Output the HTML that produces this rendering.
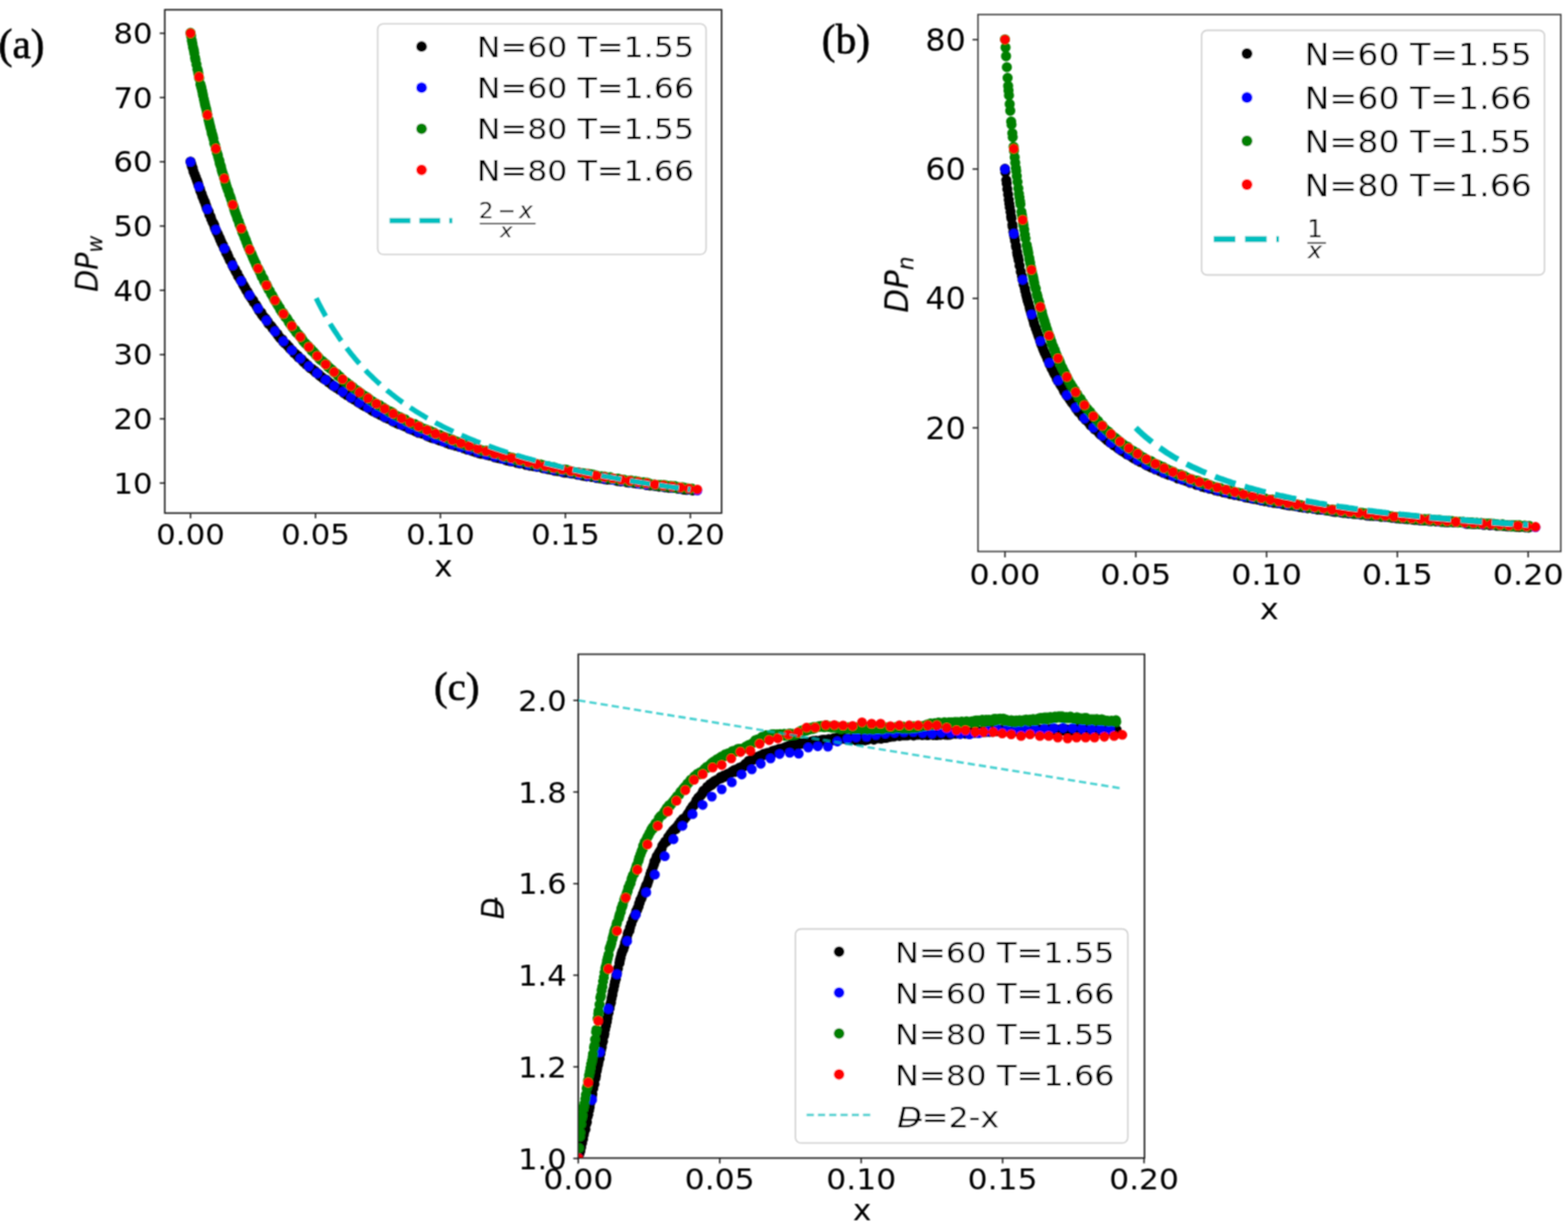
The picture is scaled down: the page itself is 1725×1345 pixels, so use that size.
<!DOCTYPE html><html><head><meta charset="utf-8"><title>Figure</title><style>html,body{margin:0;padding:0;background:#fff;overflow:hidden}svg{display:block}</style></head><body>
<svg width="1725" height="1345" viewBox="0 0 1725 1345">
<defs><filter id="bl" x="0" y="0" width="1725" height="1345" filterUnits="userSpaceOnUse"><feConvolveMatrix order="3" kernelMatrix="1 2 1 2 4 2 1 2 1" divisor="16" edgeMode="duplicate"/></filter></defs>
<rect width="1725" height="1345" fill="#fff"/>
<g filter="url(#bl)">
<defs><clipPath id="ca"><rect x="181.3" y="10.7" width="612.5" height="553.6"/></clipPath></defs>
<g clip-path="url(#ca)">
<path d="M209.6 177.8h0M210.4 180h0M211 182.5h0M212 185h0M212.9 188.7h0M214.2 191.9h0M215.3 194.7h0M216.5 198h0M217.1 199.5h0M217.8 201.6h0M218.5 204.2h0M219.9 207.7h0M220.5 210.2h0M221.8 213.1h0M222.7 216.2h0M223.6 218.2h0M224.6 220.8h0M225.4 222.3h0M226 224.2h0M226.9 226.8h0M227.4 228.6h0M227.9 229.9h0M228.6 231.2h0M229.6 233h0M230.3 236h0M231.6 238.1h0M232.3 240.6h0M233.8 244.3h0M234.8 245.8h0M235.7 247.8h0M236.2 250h0M236.9 252h0M238.2 254.7h0M239.3 256.6h0M240 258.3h0M241.2 260.9h0M241.9 262.2h0M242.3 263.8h0M243.1 265.2h0M243.7 267h0M245.2 269.5h0M246.5 273.2h0M247.6 274.3h0M248.2 275.6h0M248.9 278.3h0M250 279.3h0M250.6 281.1h0M251.3 282.5h0M252.8 286.2h0M253.9 287.3h0M255.3 290.3h0M255.8 292h0M257.2 294.4h0M258.5 296.1h0M259 297.9h0M260.1 299.8h0M261 300.8h0M261.9 303.6h0M262.9 304.7h0M264 306.6h0M264.6 307.9h0M265.8 309.5h0M267.3 312.6h0M268.4 314.5h0M269.8 317h0M270.9 319.2h0M272 320.5h0M273 322.2h0M273.5 323.5h0M274.7 325.4h0M275.9 327.2h0M277.3 329.3h0M278.5 330.4h0M279.3 332.6h0M281.3 335h0M282.4 336.7h0M283.1 338.2h0M284.2 339.9h0M285 341.5h0M286.2 343.1h0M287.4 343.8h0M288.1 346h0M289.1 347.3h0M290.4 348.7h0M292 350.3h0M293 351.8h0M294.5 353.6h0M294.9 355.1h0M295.8 356.4h0M297.7 357.9h0M298.8 359.3h0M300.2 361.4h0M301.5 362.7h0M302.5 364.1h0M304 366.1h0M305.2 367.3h0M305.8 368.6h0M307 370.3h0M308.8 372.4h0M310.7 373.4h0M311.6 375.7h0M313.4 377.6h0M315.3 378.6h0M316.7 380.5h0M317.8 381.5h0M318.9 383.3h0M320.2 384.4h0M321.7 385.8h0M323.6 388.2h0M324.9 389h0M326.1 390.3h0M327.6 391.3h0M328.4 393.1h0M330.4 394.2h0M331.7 395h0M333 397h0M334.1 398.2h0M335.5 398.9h0M336.8 400.7h0M338.6 401.6h0M340 403.6h0M341.3 404.7h0M343 405.5h0M344.4 406.7h0M346.4 408h0M347.3 409.5h0M348.9 410.1h0M350.7 411.6h0M351.3 412.9h0M352.6 413.8h0M354.6 415.2h0M355.8 416.3h0M357.4 417.4h0M358.9 417.6h0M360.1 418.8h0M361.3 420.3h0M363.3 421.5h0M365 423h0M366.6 424.2h0M368.3 425.4h0M370.2 426.5h0M372.2 427.4h0M373.3 428.6h0M374.8 428.7h0M375.8 429.9h0M377 431h0M378.3 432.2h0M379.9 432.5h0M381.6 434.5h0M383.6 435.2h0M384.9 436.2h0M386.2 437.6h0M387.7 438.1h0M389.3 439.2h0M391.1 440.1h0M392.5 440.7h0M393.5 442h0M395 443h0M396.4 443.4h0M397.6 444.5h0M399.4 445.7h0M401.3 446.9h0M403.1 447.3h0M405.2 448.7h0M406.9 449.1h0M408.1 450.2h0M408.9 451.4h0M410.5 452.2h0M412.2 452.2h0M414 454.1h0M415.6 453.7h0M416.6 455.2h0M418.3 456.3h0M420 456h0M421 457h0M422.2 458.2h0M423.8 459.2h0M425.2 459.6h0M426.5 460.4h0M428 460.2h0M429.6 461.3h0M430.8 462.2h0M432 463.3h0M433.3 464h0M434.9 463.9h0M436.7 465.5h0M438.4 466.3h0M439.8 466.6h0M441.8 466.7h0M443.4 468h0M445.1 468.9h0M447 469.2h0M448.6 470.3h0M449.7 471.4h0M451.2 471.3h0M452.3 472.2h0M453.9 472.9h0M455.7 473.6h0M457.6 474.5h0M459.2 474.8h0M460.5 476h0M462 475.7h0M463.4 476.4h0M464.9 477h0M466.4 477.2h0M468.4 478.1h0M469.6 479.3h0M471.4 480.1h0M472.8 480.2h0M474.4 481.3h0M476 481.9h0M477.5 482h0M479 482.1h0M480.4 482.5h0M481.6 483.6h0M483.4 484.4h0M485.3 484.4h0M487 485.4h0M489 485.8h0M490.2 486.6h0M491.8 487.2h0M493.7 487.5h0M494.9 488.5h0M496.1 487.7h0M498 489.2h0M499.8 489.5h0M501.2 490.2h0M503.2 490.4h0M505.1 491.3h0M506.6 491h0M508.2 491.8h0M510.1 493h0M511.8 492.7h0M513.7 494.4h0M515.3 494.1h0M516.9 494.5h0M518.4 495.5h0M520 496.1h0M522.1 496.2h0M523.4 497.2h0M525 496.9h0M526.6 498.3h0M528.4 498.8h0M530.2 498.2h0M531.4 499.1h0M532.9 499.1h0M534.8 500.1h0M536.6 500h0M537.9 500.9h0M539.6 501h0M541.7 501.1h0M543.1 501.7h0M544 502.8h0M546 503h0M547.4 503.6h0M549.1 503.9h0M551.3 504.4h0M553.1 504.4h0M554.8 504.8h0M556.1 505.8h0M558.1 506.5h0M559.8 505.7h0M561.4 507.2h0M563 507.5h0M565 507.4h0M567 507.5h0M568.8 509h0M570.2 508.3h0M572.1 509.7h0M573.9 509.4h0M575.6 509.3h0M577.2 510.1h0M578.7 511.2h0M580.4 510.4h0M582.1 510.7h0M582.8 512.1h0M584.2 511.3h0M585.9 512h0M587.2 512.7h0M589.2 512.8h0M590.7 513.4h0M592.7 512.9h0M594.3 513.5h0M596.1 513.9h0M597.2 514.8h0M598.6 515h0M600.5 515h0M602.2 515.8h0M604.3 515.8h0M605.6 516.3h0M607.2 516h0M608.8 516.4h0M609.8 517.6h0M611.2 516.5h0M612.5 517.9h0M614.2 517.5h0M615.7 518.2h0M617.6 518h0M619.2 519.2h0M620.7 519.7h0M622 519h0M624 518.9h0M625 519.9h0M626.8 519.6h0M628.7 520.7h0M630 520h0M631.6 520.3h0M633.3 521.1h0M635.4 522h0M636.6 521.2h0M637.8 522h0M639.4 522.3h0M640.8 523h0M642.7 522.1h0M643.6 523.5h0M645.5 523.8h0M647.2 523.5h0M649.1 523.5h0M651.1 524.5h0M652.3 523.9h0M654.3 524.6h0M656.1 525.6h0M658 525h0M659.9 526h0M661.1 525.2h0M663 526.4h0M664.7 526.9h0M666.4 526.7h0M667.9 527.3h0M669.5 527.1h0M671.1 527.1h0M672.7 526.9h0M674.4 527.5h0M675.8 527.7h0M677.5 528.2h0M678.9 528.8h0M680.6 529h0M682.8 529.4h0M684.6 528.8h0M686.3 529.1h0M688.2 529.1h0M689.6 530.3h0M690.9 529.6h0M691.9 530.7h0M693.5 530.1h0M695.4 530.3h0M697.4 531.2h0M699 530.9h0M700.3 531.7h0M701.8 531h0M703 531.9h0M705 532.1h0M706.8 531.9h0M708.5 532.4h0M710.6 532.3h0M711.5 533.5h0M713 533.1h0M714.3 532.6h0M715 533.9h0M716.9 533.5h0M718.8 534h0M720.5 534.3h0M722 533.8h0M723.3 534.6h0M725.1 535.1h0M726.8 534.5h0M728.6 534.4h0M730.1 535.4h0M731.5 535.8h0M733.1 535.1h0M734.6 535.3h0M735.7 536.3h0M736.9 535.4h0M738.4 536.2h0M740.2 536.3h0M742.1 536.5h0M744 536.5h0M746 537.5h0M747.3 536.8h0M748.9 537h0M750.2 537.5h0M751.8 538.4h0M753.5 537.8h0M755.3 538.7h0M756.4 537.8h0M757.9 538.5h0M759.7 538.5h0M761.9 539.4h0" fill="none" stroke="#000000" stroke-width="11.2" stroke-linecap="round"/>
<path d="M209.6 177.9h0M218.9 205.2h0M228.2 230h0M237.5 252.6h0M246.8 273.2h0M256.1 291.9h0M265.4 309.1h0M274.7 324.8h0M283.9 339.3h0M293.2 352.4h0M302.5 364.4h0M311.8 375.2h0M321.1 385.2h0M330.4 394.3h0M339.7 402.7h0M349 410.4h0M358.3 417.7h0M367.6 424.4h0M376.9 430.8h0M386.2 436.9h0M395.5 442.8h0M404.8 448.3h0M414.1 453.5h0M423.3 458.4h0M432.6 463h0M441.9 467.3h0M451.2 471.4h0M460.5 475.3h0M469.8 478.9h0M479.1 482.4h0M488.4 485.7h0M497.7 488.8h0M507 491.8h0M516.3 494.6h0M525.6 497.3h0M534.9 499.9h0M544.2 502.3h0M553.5 504.7h0M562.7 506.9h0M572 509.1h0M581.3 511.1h0M590.6 513.1h0M599.9 515h0M609.2 516.8h0M618.5 518.6h0M627.8 520.2h0M637.1 521.9h0M646.4 523.4h0M655.7 524.9h0M665 526.4h0M674.3 527.7h0M683.6 529.1h0M692.9 530.4h0M702.1 531.7h0M711.4 532.9h0M720.7 534h0M730 535.2h0M739.3 536.3h0M748.6 537.4h0M757.9 538.4h0M767.2 539.4h0" fill="none" stroke="#0000ff" stroke-width="10.6" stroke-linecap="round"/>
<path d="M209.6 36.2h0M210.2 39.4h0M211 44.4h0M211.7 47.9h0M212.3 51.7h0M212.9 53.7h0M213.3 55.6h0M213.8 58.6h0M214.6 63.4h0M215.1 66h0M216.1 70.8h0M217.1 75.9h0M217.7 77.8h0M218.2 80.8h0M219.1 86h0M220.5 92.8h0M221.1 94.7h0M221.6 96.6h0M222.4 100.1h0M223 103.2h0M223.4 105.3h0M224.3 109.3h0M225 112.3h0M225.5 114.7h0M226 116.8h0M226.9 120h0M227.5 123.1h0M227.9 125.7h0M229.4 131.6h0M229.9 133.5h0M230.4 135.7h0M231.1 138.4h0M231.6 140.5h0M232.6 144.3h0M232.9 146.4h0M233.5 147.8h0M234.1 149.7h0M234.8 152.6h0M235.7 157.4h0M236.8 160.2h0M237.6 164.1h0M238.6 167.7h0M239.5 170.2h0M239.8 171.7h0M240.8 175.2h0M241.4 176.9h0M241.7 179.4h0M242.5 181.6h0M243.1 183.3h0M243.8 186.8h0M244.3 188.5h0M245 190.5h0M246.2 193.8h0M246.8 196.2h0M247.7 199.4h0M248.3 201.9h0M248.7 203.3h0M249.5 205.7h0M250.6 208.7h0M251.3 210.2h0M252.2 213.6h0M253.3 216.3h0M254.1 218.8h0M255.3 222.7h0M255.6 224.2h0M256.5 226h0M257.2 228h0M257.8 230.6h0M258.5 232.6h0M259 234.2h0M259.8 236.3h0M260.8 239h0M261.3 240.7h0M262.7 243.7h0M263.4 246.5h0M264.4 248.7h0M265.4 251.1h0M266.4 254.5h0M267.3 256.5h0M268 257.9h0M269 261h0M269.7 262.5h0M270.5 264.2h0M270.9 265.8h0M271.7 267.6h0M272.3 269.5h0M273.6 272.6h0M274.8 275.2h0M275.4 276.7h0M276.6 279h0M277.3 280.7h0M278.4 283.4h0M279.4 285.6h0M280 287.3h0M281.3 289.4h0M281.7 291h0M283.1 293.9h0M284.3 295.7h0M285 297.1h0M285.9 299.2h0M286.9 300.8h0M287.5 302.9h0M288.2 304.6h0M289.4 305.7h0M290.1 307h0M290.5 309.1h0M291.7 311.1h0M293 312.8h0M293.6 314.1h0M294.2 315.7h0M295.6 318.6h0M296.8 319.9h0M298.2 323.1h0M299.4 324.8h0M300.7 327.1h0M301.5 329.1h0M302.6 330.9h0M303.6 332.3h0M304.7 333.9h0M305.6 335.4h0M306.5 337.1h0M307.7 338.5h0M308.4 340.5h0M309.5 342.1h0M310.3 343.4h0M311.5 344.1h0M312.1 345.9h0M313.3 347.2h0M314 348.9h0M315.4 349.8h0M316.7 351.9h0M317.9 354.4h0M319.1 355.1h0M319.5 356.5h0M321 358.4h0M322.1 360.4h0M323.6 362.2h0M324.8 363h0M325.9 365.5h0M327.3 366.7h0M328.7 368.3h0M329.9 369.6h0M331 370.7h0M331.8 372.3h0M332.9 373.9h0M334 375.6h0M335.6 377.3h0M336.7 378.4h0M338.7 380.3h0M340.4 382.4h0M342 383.6h0M343 385.9h0M344.8 386.6h0M345.6 387.9h0M346.7 388.9h0M347.4 390.2h0M348.7 391.3h0M350.1 392.7h0M351.4 394.6h0M352.7 395.9h0M354.3 396.8h0M355.9 398.1h0M357.7 399.7h0M359 400.7h0M360 401.9h0M360.6 403.3h0M362.2 404.1h0M363.2 405.3h0M364.6 406.1h0M365.7 407.1h0M367.2 409h0M368.8 410.3h0M370.4 410.9h0M371.5 412.2h0M372.1 413.6h0M373.9 414.1h0M375.2 416h0M376.6 417.3h0M378.6 419h0M379.9 419.8h0M381.7 420.9h0M383 422.3h0M384.7 423.1h0M385.9 424.8h0M388.1 425.6h0M390 427.8h0M391.6 428.8h0M393.8 430h0M395.7 431.5h0M397.3 432.7h0M398.6 434.1h0M400.7 435.2h0M402.3 436.1h0M403.8 436.9h0M405.2 438h0M406.2 439h0M407.6 440.2h0M409.6 441.3h0M411.4 442.8h0M413.3 443.5h0M415.1 444.7h0M416.2 446h0M417.8 445.7h0M418.9 447h0M420.2 448.1h0M421.6 448.1h0M422.9 449.3h0M424.7 450.2h0M425.9 451.2h0M427.2 452.2h0M429 452.3h0M429.5 453.7h0M431.1 453.4h0M432.3 454.2h0M434.1 456.3h0M436 457h0M437.9 458.4h0M439.9 458.6h0M441.2 459.3h0M442.4 460.2h0M443.7 461.1h0M445.5 461h0M446.6 462.5h0M447.8 463.5h0M449.4 464.1h0M450.6 464.8h0M452.4 465.7h0M454.4 466.7h0M456.3 466.4h0M458 467.6h0M459.3 469h0M461.4 468.9h0M462.5 470.4h0M463.9 471.1h0M465.9 471.3h0M467.2 471.9h0M469 472.4h0M470.2 473.1h0M471.6 473.7h0M473.2 473.9h0M474.7 475.5h0M476 476.1h0M477.3 475.5h0M478.4 477h0M480.1 478h0M481.6 478h0M483.6 478h0M484.9 479.3h0M486.7 479.6h0M488.6 480.3h0M490.3 480.8h0M491.2 481.9h0M493 481.8h0M494 483.1h0M495.5 483.2h0M497.2 483.3h0M497.9 484.6h0M499.9 484.7h0M501.7 485.4h0M502.6 486.5h0M504.1 486h0M505.5 487.2h0M507.6 487.2h0M508.7 488.5h0M510.2 487.7h0M511.3 489.4h0M512.5 488.6h0M513.8 490.2h0M515.6 490.5h0M517.8 490.9h0M519.6 490.8h0M521.2 491.7h0M522.7 492.3h0M524.7 493.2h0M526.5 493.8h0M527.9 494.8h0M529.5 495.2h0M531.5 495.8h0M533.5 495.9h0M535.1 495.6h0M536.4 496.5h0M538 496.5h0M539.2 497.3h0M541 497.8h0M542.3 498.5h0M543.9 499h0M545.4 498.9h0M547.3 499.6h0M549.1 500h0M551.1 500.4h0M552.5 500.8h0M553.5 501.9h0M555 502.5h0M556.7 501.9h0M558 502.9h0M560 502.7h0M561.9 503.5h0M563.6 503.4h0M565.6 504.2h0M566.8 505.4h0M568.2 504.7h0M569.5 506.2h0M571.1 505.7h0M573 506.8h0M574.5 506.7h0M576.5 507.5h0M578.5 507.3h0M579.7 508.4h0M581.4 508.8h0M583.4 508.4h0M585.3 509.9h0M586.6 509.1h0M587.9 510.3h0M589.7 510.1h0M591.1 511.1h0M592.8 511h0M594.9 510.9h0M596.7 511.4h0M597.8 512.7h0M599.3 512.6h0M600.9 512.9h0M602.4 513.5h0M603.7 512.8h0M604.9 513.7h0M606.5 514.5h0M608.2 514.7h0M609.3 513.9h0M610.4 514.9h0M612 514.9h0M613.8 515.3h0M615.2 516.2h0M616.8 516.5h0M618.7 516.4h0M620.1 517h0M621.4 516.4h0M623.2 516.5h0M624.9 517.4h0M626.5 517.8h0M627.8 518.7h0M629.7 518.6h0M631.4 519h0M633.5 519.5h0M635.4 519.5h0M637.1 519.9h0M638.9 520.3h0M640.7 520.4h0M642.8 520.7h0M644.6 521.6h0M646.8 521.1h0M648.6 521.4h0M650.2 521.5h0M651.7 522.7h0M653 522.1h0M654.8 523.4h0M656.7 523h0M658.1 523.8h0M659.9 524.4h0M661.9 523.8h0M663.1 524.6h0M665.1 524h0M666.6 524.6h0M668 525.5h0M670 525.7h0M671.4 524.9h0M673 526.3h0M674.6 526.4h0M676.5 526.6h0M678.2 526.5h0M680 526.3h0M681.4 527.7h0M683.2 527.6h0M684.7 527.7h0M686.5 527.7h0M688.5 528.6h0M690 529.1h0M691.6 528.5h0M692.9 529.5h0M694.2 528.4h0M696 529.7h0M697.7 529.5h0M699.2 529.2h0M700.5 530h0M702 529.7h0M703.6 530h0M704.8 530.8h0M706.8 531.4h0M708 530.3h0M709.3 531.4h0M711.2 530.9h0M712.8 531h0M714.4 532h0M716 532.5h0M717.4 532.8h0M719.5 532.9h0M721 533.3h0M723.2 533.3h0M724.9 533.4h0M727.1 533.3h0M728.2 534.2h0M730.2 533.4h0M731.4 534.6h0M732.6 533.9h0M734.4 534.3h0M736.4 535.1h0M737.8 534.3h0M739.7 534.6h0M741.6 535.8h0M742.5 534.7h0M744 536.3h0M745.8 535.6h0M747.6 536.1h0M748.9 536.6h0M750.5 535.8h0M751.7 537h0M753 536.4h0M754.9 537.2h0M756.5 537.1h0M758.1 537.3h0M760 538.1h0M761.2 537.4h0" fill="none" stroke="#008000" stroke-width="11.2" stroke-linecap="round"/>
<path d="M209.6 36.6h0M218.9 84.4h0M228.2 126.4h0M237.5 163.4h0M246.8 196.2h0M256.1 225.3h0M265.4 251.2h0M274.7 274.4h0M283.9 295.2h0M293.2 313.7h0M302.5 330.3h0M311.8 345.2h0M321.1 358.5h0M330.4 370.6h0M339.7 381.5h0M349 391.5h0M358.3 400.7h0M367.6 409.1h0M376.9 417h0M386.2 424.4h0M395.5 431.4h0M404.8 437.9h0M414.1 444h0M423.3 449.6h0M432.6 454.9h0M441.9 459.9h0M451.2 464.5h0M460.5 468.9h0M469.8 473h0M479.1 476.9h0M488.4 480.6h0M497.7 484h0M507 487.3h0M516.3 490.4h0M525.6 493.4h0M534.9 496.2h0M544.2 498.9h0M553.5 501.4h0M562.7 503.8h0M572 506.1h0M581.3 508.3h0M590.6 510.5h0M599.9 512.5h0M609.2 514.4h0M618.5 516.3h0M627.8 518.1h0M637.1 519.8h0M646.4 521.4h0M655.7 523h0M665 524.6h0M674.3 526h0M683.6 527.5h0M692.9 528.8h0M702.1 530.1h0M711.4 531.4h0M720.7 532.7h0M730 533.9h0M739.3 535h0M748.6 536.1h0M757.9 537.2h0M767.2 538.3h0" fill="none" stroke="#ff0000" stroke-width="10.6" stroke-linecap="round"/>
<path d="M347.9 328 L350 332.2 L352 336.2 L354.1 340.1 L356.2 343.9 L358.2 347.6 L360.3 351.2 L362.4 354.7 L364.4 358.1 L366.5 361.4 L368.6 364.6 L370.7 367.7 L372.7 370.8 L374.8 373.8 L376.9 376.7 L378.9 379.5 L381 382.3 L383.1 385 L385.1 387.6 L387.2 390.2 L389.3 392.7 L391.3 395.2 L393.4 397.6 L395.5 400 L397.5 402.3 L399.6 404.5 L401.7 406.7 L403.7 408.9 L405.8 411 L407.9 413 L410 415.1 L412 417 L414.1 419 L416.2 420.9 L418.2 422.8 L420.3 424.6 L422.4 426.4 L424.4 428.1 L426.5 429.9 L428.6 431.5 L430.6 433.2 L432.7 434.8 L434.8 436.4 L436.8 438 L438.9 439.6 L441 441.1 L443 442.6 L445.1 444 L447.2 445.5 L449.2 446.9 L451.3 448.3 L453.4 449.6 L455.5 451 L457.5 452.3 L459.6 453.6 L461.7 454.9 L463.7 456.1 L465.8 457.3 L467.9 458.6 L469.9 459.8 L472 460.9 L474.1 462.1 L476.1 463.2 L478.2 464.3 L480.3 465.5 L482.3 466.5 L484.4 467.6 L486.5 468.7 L488.5 469.7 L490.6 470.7 L492.7 471.7 L494.8 472.7 L496.8 473.7 L498.9 474.7 L501 475.6 L503 476.6 L505.1 477.5 L507.2 478.4 L509.2 479.3 L511.3 480.2 L513.4 481.1 L515.4 482 L517.5 482.8 L519.6 483.7 L521.6 484.5 L523.7 485.3 L525.8 486.1 L527.8 486.9 L529.9 487.7 L532 488.5 L534.1 489.3 L536.1 490 L538.2 490.8 L540.3 491.5 L542.3 492.2 L544.4 493 L546.5 493.7 L548.5 494.4 L550.6 495.1 L552.7 495.8 L554.7 496.4 L556.8 497.1 L558.9 497.8 L560.9 498.4 L563 499.1 L565.1 499.7 L567.1 500.3 L569.2 501 L571.3 501.6 L573.3 502.2 L575.4 502.8 L577.5 503.4 L579.6 504 L581.6 504.6 L583.7 505.1 L585.8 505.7 L587.8 506.3 L589.9 506.8 L592 507.4 L594 507.9 L596.1 508.5 L598.2 509 L600.2 509.5 L602.3 510.1 L604.4 510.6 L606.4 511.1 L608.5 511.6 L610.6 512.1 L612.6 512.6 L614.7 513.1 L616.8 513.6 L618.9 514.1 L620.9 514.5 L623 515 L625.1 515.5 L627.1 516 L629.2 516.4 L631.3 516.9 L633.3 517.3 L635.4 517.8 L637.5 518.2 L639.5 518.6 L641.6 519.1 L643.7 519.5 L645.7 519.9 L647.8 520.3 L649.9 520.8 L651.9 521.2 L654 521.6 L656.1 522 L658.2 522.4 L660.2 522.8 L662.3 523.2 L664.4 523.6 L666.4 524 L668.5 524.3 L670.6 524.7 L672.6 525.1 L674.7 525.5 L676.8 525.8 L678.8 526.2 L680.9 526.6 L683 526.9 L685 527.3 L687.1 527.6 L689.2 528 L691.2 528.3 L693.3 528.7 L695.4 529 L697.4 529.4 L699.5 529.7 L701.6 530 L703.7 530.4 L705.7 530.7 L707.8 531 L709.9 531.3 L711.9 531.7 L714 532 L716.1 532.3 L718.1 532.6 L720.2 532.9 L722.3 533.2 L724.3 533.5 L726.4 533.8 L728.5 534.1 L730.5 534.4 L732.6 534.7 L734.7 535 L736.7 535.3 L738.8 535.6 L740.9 535.9 L743 536.2 L745 536.4 L747.1 536.7 L749.2 537 L751.2 537.3 L753.3 537.6 L755.4 537.8 L757.4 538.1 L759.5 538.4" fill="none" stroke="#00bfbf" stroke-width="5.7" stroke-linecap="butt" stroke-linejoin="round" stroke-dasharray="22.3 9.8"/>
</g>
<rect x="181.3" y="10.7" width="612.5" height="553.6" fill="none" stroke="#151515" stroke-width="1.6"/>
<path d="M175.7 531.3H181.3" stroke="#151515" stroke-width="1.5"/>
<text transform="translate(168,542.6) scale(1.070,1)" font-family="'DejaVu Sans', 'Liberation Sans', sans-serif" font-size="31.8" text-anchor="end" fill="#000">10</text>
<path d="M175.7 460.6H181.3" stroke="#151515" stroke-width="1.5"/>
<text transform="translate(168,471.9) scale(1.070,1)" font-family="'DejaVu Sans', 'Liberation Sans', sans-serif" font-size="31.8" text-anchor="end" fill="#000">20</text>
<path d="M175.7 390H181.3" stroke="#151515" stroke-width="1.5"/>
<text transform="translate(168,401.3) scale(1.070,1)" font-family="'DejaVu Sans', 'Liberation Sans', sans-serif" font-size="31.8" text-anchor="end" fill="#000">30</text>
<path d="M175.7 319.3H181.3" stroke="#151515" stroke-width="1.5"/>
<text transform="translate(168,330.6) scale(1.070,1)" font-family="'DejaVu Sans', 'Liberation Sans', sans-serif" font-size="31.8" text-anchor="end" fill="#000">40</text>
<path d="M175.7 248.6H181.3" stroke="#151515" stroke-width="1.5"/>
<text transform="translate(168,259.9) scale(1.070,1)" font-family="'DejaVu Sans', 'Liberation Sans', sans-serif" font-size="31.8" text-anchor="end" fill="#000">50</text>
<path d="M175.7 177.9H181.3" stroke="#151515" stroke-width="1.5"/>
<text transform="translate(168,189.2) scale(1.070,1)" font-family="'DejaVu Sans', 'Liberation Sans', sans-serif" font-size="31.8" text-anchor="end" fill="#000">60</text>
<path d="M175.7 107.3H181.3" stroke="#151515" stroke-width="1.5"/>
<text transform="translate(168,118.6) scale(1.070,1)" font-family="'DejaVu Sans', 'Liberation Sans', sans-serif" font-size="31.8" text-anchor="end" fill="#000">70</text>
<path d="M175.7 36.6H181.3" stroke="#151515" stroke-width="1.5"/>
<text transform="translate(168,47.9) scale(1.070,1)" font-family="'DejaVu Sans', 'Liberation Sans', sans-serif" font-size="31.8" text-anchor="end" fill="#000">80</text>
<path d="M209.6 564.3V570.1" stroke="#151515" stroke-width="1.5"/>
<text transform="translate(209.6,598.8) scale(1.070,1)" font-family="'DejaVu Sans', 'Liberation Sans', sans-serif" font-size="31.8" text-anchor="middle" fill="#000">0.00</text>
<path d="M347.1 564.3V570.1" stroke="#151515" stroke-width="1.5"/>
<text transform="translate(347.1,598.8) scale(1.070,1)" font-family="'DejaVu Sans', 'Liberation Sans', sans-serif" font-size="31.8" text-anchor="middle" fill="#000">0.05</text>
<path d="M484.5 564.3V570.1" stroke="#151515" stroke-width="1.5"/>
<text transform="translate(484.5,598.8) scale(1.070,1)" font-family="'DejaVu Sans', 'Liberation Sans', sans-serif" font-size="31.8" text-anchor="middle" fill="#000">0.10</text>
<path d="M622 564.3V570.1" stroke="#151515" stroke-width="1.5"/>
<text transform="translate(622,598.8) scale(1.070,1)" font-family="'DejaVu Sans', 'Liberation Sans', sans-serif" font-size="31.8" text-anchor="middle" fill="#000">0.15</text>
<path d="M759.5 564.3V570.1" stroke="#151515" stroke-width="1.5"/>
<text transform="translate(759.5,598.8) scale(1.070,1)" font-family="'DejaVu Sans', 'Liberation Sans', sans-serif" font-size="31.8" text-anchor="middle" fill="#000">0.20</text>
<text transform="translate(487.8,633.6) scale(1.070,1)" font-family="'DejaVu Sans', 'Liberation Sans', sans-serif" font-size="31.8" text-anchor="middle" fill="#000">x</text>
<text transform="translate(107.8,321.0) rotate(-90) scale(1,1.045)" font-family="'DejaVu Sans', 'Liberation Sans', sans-serif" font-size="31.6" font-style="italic">DP<tspan font-size="22.8" dy="4.3">w</tspan></text>
<rect x="415.5" y="26.2" width="361.2" height="253.6" rx="6" ry="6" fill="#ffffff" fill-opacity="0.8" stroke="#d0d0d0" stroke-width="1.6"/>
<path d="M463.8 51.2h0" fill="none" stroke="#000000" stroke-width="11.8" stroke-linecap="round"/>
<text transform="translate(524.6,62.9) scale(1.090,1)" font-family="'DejaVu Sans', 'Liberation Sans', sans-serif" font-size="32" text-anchor="start" fill="#000">N=60 T=1.55</text>
<path d="M463.8 96.4h0" fill="none" stroke="#0000ff" stroke-width="11.8" stroke-linecap="round"/>
<text transform="translate(524.6,108.1) scale(1.090,1)" font-family="'DejaVu Sans', 'Liberation Sans', sans-serif" font-size="32" text-anchor="start" fill="#000">N=60 T=1.66</text>
<path d="M463.8 141.6h0" fill="none" stroke="#008000" stroke-width="11.8" stroke-linecap="round"/>
<text transform="translate(524.6,153.3) scale(1.090,1)" font-family="'DejaVu Sans', 'Liberation Sans', sans-serif" font-size="32" text-anchor="start" fill="#000">N=80 T=1.55</text>
<path d="M463.8 186.8h0" fill="none" stroke="#ff0000" stroke-width="11.8" stroke-linecap="round"/>
<text transform="translate(524.6,198.5) scale(1.090,1)" font-family="'DejaVu Sans', 'Liberation Sans', sans-serif" font-size="32" text-anchor="start" fill="#000">N=80 T=1.66</text>
<path d="M428.6 242.7 L497.6 242.7" fill="none" stroke="#00bfbf" stroke-width="5.7" stroke-linecap="butt" stroke-linejoin="round" stroke-dasharray="22.9 9.9"/>
<text transform="translate(526.8,239.7) scale(1.060,1)" font-family="'DejaVu Sans', 'Liberation Sans', sans-serif" font-size="24" text-anchor="start" fill="#000">2</text>
<text transform="translate(547.2,239.7)" font-family="'DejaVu Sans', 'Liberation Sans', sans-serif" font-size="24" text-anchor="start" fill="#000">−</text>
<text transform="translate(571,239.7) scale(1.060,1)" font-family="'DejaVu Sans', 'Liberation Sans', sans-serif" font-size="24" text-anchor="start" font-style="italic" fill="#000">x</text>
<path d="M527.8 245.8H589.2" stroke="#000" stroke-width="1.6"/>
<text transform="translate(557,261.2) scale(1.060,1)" font-family="'DejaVu Sans', 'Liberation Sans', sans-serif" font-size="22" text-anchor="middle" font-style="italic" fill="#000">x</text>
<text transform="translate(-1.5,64.3)" font-family="'Liberation Serif', 'DejaVu Serif', serif" font-size="45.5" text-anchor="start" stroke="#000" stroke-width="0.7" fill="#000">(a)</text>
<defs><clipPath id="cb"><rect x="1075.9" y="16" width="641.2" height="590.5"/></clipPath></defs>
<g clip-path="url(#cb)">
<path d="M1105.6 185.7h0M1106 189.2h0M1107.1 198.1h0M1107.5 201.5h0M1108.2 208h0M1109.1 213.9h0M1109.8 219.6h0M1110.4 224.1h0M1110.9 228h0M1111.7 232.7h0M1112.4 238.2h0M1112.7 240.2h0M1113.8 247.3h0M1114 249.2h0M1114.9 255h0M1115.4 257.9h0M1116.1 261h0M1116.7 264.6h0M1117.7 270.3h0M1118 272.1h0M1119 277.5h0M1119.3 280.1h0M1120.1 283h0M1120.7 286.3h0M1121.7 292.3h0M1123 298.7h0M1124.3 303.8h0M1124.9 307.4h0M1126.1 312.7h0M1127.4 317.1h0M1127.9 319.9h0M1128.9 324h0M1129.5 326.3h0M1130 328.2h0M1130.5 330.4h0M1131.6 333.9h0M1132.7 338h0M1133.2 340.2h0M1134 342.7h0M1134.7 344.9h0M1135.4 347.7h0M1136 349.6h0M1136.6 351.4h0M1137.5 355.3h0M1137.9 356.7h0M1139.4 360.5h0M1139.9 361.8h0M1140.8 364.6h0M1141.9 367.5h0M1142.6 369.5h0M1143.2 371.3h0M1144.2 374.6h0M1145.3 377.9h0M1146 379.6h0M1146.8 381h0M1147.2 382.6h0M1148.1 385.3h0M1149.2 387.4h0M1149.8 388.8h0M1150.7 390.8h0M1151.8 393h0M1152.4 395.1h0M1153.3 396.6h0M1154.1 398.7h0M1154.8 400.8h0M1155.9 402.3h0M1156.8 405.1h0M1158.1 407.3h0M1159.3 409.8h0M1160.4 411.8h0M1161.7 413.6h0M1162.7 416.7h0M1163.9 419h0M1165 420h0M1165.8 421.2h0M1166.4 422.6h0M1167.6 424.4h0M1168.6 426.1h0M1169.3 427.3h0M1170.4 429.4h0M1171 430.9h0M1172.5 432.4h0M1173.1 434.3h0M1174.4 435.1h0M1175 436.6h0M1176.6 438.5h0M1177.3 440.1h0M1179.1 442.5h0M1180 443.6h0M1181.1 444.7h0M1182.6 447.3h0M1183.7 449.2h0M1185.2 450.3h0M1185.8 451.8h0M1186.9 453.4h0M1188.4 453.8h0M1189.5 455.8h0M1191.2 458.5h0M1193.1 460.1h0M1194.3 461.9h0M1195.8 462.9h0M1196.9 463.7h0M1198.4 465.5h0M1199.8 467.8h0M1201.6 468.4h0M1202.4 469.8h0M1204.1 472.1h0M1205.5 472.4h0M1207 473.9h0M1208.2 474.8h0M1209.4 476.6h0M1210.7 478h0M1212.1 478.7h0M1213.7 480.3h0M1215.7 482h0M1217.5 483h0M1218.2 484.4h0M1220.2 485.9h0M1221.3 486.8h0M1223.3 487.2h0M1224.1 488.6h0M1225.4 489.7h0M1226.9 490.6h0M1228.9 492.1h0M1230.7 493.5h0M1232.2 493.8h0M1233.6 495.5h0M1235.3 496.5h0M1236.5 497.4h0M1238.2 498.3h0M1239.9 499.7h0M1241.9 500.5h0M1243.3 501.4h0M1245.1 502.6h0M1246.5 503.6h0M1247.8 504.3h0M1249.3 503.9h0M1250.4 505h0M1251.2 506.2h0M1253.1 506.3h0M1254.5 508h0M1256.5 508.5h0M1258.7 509.6h0M1260 510.9h0M1261.6 511.8h0M1263.1 512.3h0M1264.6 513.1h0M1266.4 514.1h0M1267.9 514.3h0M1269.3 514.9h0M1271.2 516.2h0M1272.5 515.7h0M1274.3 516.7h0M1275.9 518.1h0M1277.8 518.8h0M1279.9 520h0M1281.6 520.3h0M1283 521.1h0M1285.1 521h0M1285.9 522.2h0M1287.7 522h0M1289.6 523h0M1291.1 523.3h0M1292.4 524.2h0M1294.4 525h0M1295.8 526.2h0M1297.7 526h0M1299 526.7h0M1300.7 527.6h0M1302.2 527.4h0M1304 528.6h0M1305.5 528.7h0M1306.8 529.5h0M1308.3 529.6h0M1309.4 531h0M1311.4 530.8h0M1313.4 531.2h0M1314.9 532h0M1315.9 533.1h0M1317.3 532.5h0M1318.7 533.4h0M1320.8 533.6h0M1322.7 535.2h0M1324.7 534.5h0M1325.4 535.8h0M1326.8 535.1h0M1328.6 536.3h0M1330.2 537.3h0M1332.1 536.8h0M1334 537.7h0M1335.8 537.5h0M1337.1 539.2h0M1338.6 538.7h0M1340.4 540h0M1342.1 539.6h0M1343.7 539.6h0M1345 540.3h0M1346 541.5h0M1347.8 540.8h0M1349 542h0M1350.4 541.3h0M1351.9 541.9h0M1353.3 543.2h0M1355.2 542.8h0M1356.9 543.2h0M1358.2 544.3h0M1360.5 543.7h0M1361.9 543.9h0M1363.2 545.1h0M1365.1 545.1h0M1367 545.6h0M1368.5 545.9h0M1369.6 546.8h0M1371.2 546.9h0M1373.1 547.3h0M1375 547h0M1377.2 548.2h0M1379.2 548.7h0M1381.1 548.2h0M1382.7 548.8h0M1384.3 549.5h0M1386.3 549.4h0M1387.8 550.5h0M1389.5 549.9h0M1391.3 551.1h0M1392.8 550.6h0M1394.8 551.4h0M1396.4 552.1h0M1398.2 551.9h0M1400.3 551.8h0M1401.3 553h0M1402.9 552.8h0M1404.7 552.8h0M1406 553.5h0M1407.6 553.4h0M1409.4 553.1h0M1410.8 554.3h0M1412.8 553.7h0M1414 555h0M1415.5 554.4h0M1417.3 555.7h0M1418.9 555.8h0M1420.7 555.3h0M1422.1 555.5h0M1423.5 556.2h0M1425.3 556.6h0M1426.8 555.8h0M1428.5 556.9h0M1429.8 557.6h0M1431.9 556.8h0M1433.5 558.1h0M1435.3 557.5h0M1437.1 558.3h0M1438.5 558.9h0M1439.4 557.7h0M1441.2 558.4h0M1442.7 558.2h0M1444.6 559.3h0M1446.3 559.3h0M1447.9 559.1h0M1449.3 560.3h0M1451.3 559.6h0M1453 560.5h0M1454.3 560.1h0M1455.9 560h0M1458 561.1h0M1459.8 561.4h0M1461.6 560.9h0M1463.2 561.8h0M1465.2 561.6h0M1466.3 562.6h0M1467.7 561.5h0M1469 563h0M1470.4 561.9h0M1471.7 562.6h0M1473.4 562.2h0M1474.7 563.4h0M1476.3 563.4h0M1477.8 564h0M1479.4 563.3h0M1481.6 564h0M1483.6 564.6h0M1484.9 563.9h0M1486.4 564.4h0M1487.8 564.8h0M1489.5 565.2h0M1491 565.2h0M1492.9 565.2h0M1494.3 564.8h0M1496 564.7h0M1497.5 566h0M1499.5 565.6h0M1501.4 565.9h0M1503.4 566.9h0M1504.9 567h0M1506.1 566.2h0M1507.4 567.2h0M1509.3 566.9h0M1510.9 567.3h0M1512.8 567.1h0M1514.6 567.4h0M1516.1 567h0M1518.1 567.8h0M1519.5 568.3h0M1520.6 567.4h0M1522 567.9h0M1524 568.4h0M1526 568.2h0M1527.9 568.7h0M1529.3 568.9h0M1531.5 569.3h0M1533 569.2h0M1535 568.7h0M1535.9 569.9h0M1537.8 569.4h0M1539.1 570.1h0M1541.1 570.2h0M1542.3 569.4h0M1543.8 570.1h0M1545.7 570.7h0M1547 569.8h0M1548.5 571h0M1549.9 569.9h0M1551.9 570.7h0M1553.8 571.3h0M1555.6 571.6h0M1557.6 571.7h0M1559.5 571h0M1560.9 571.3h0M1562.2 572.2h0M1563.5 571.6h0M1565.2 572.1h0M1566.9 572.5h0M1569.1 571.7h0M1570.4 572.4h0M1571.8 572.9h0M1573.6 571.9h0M1574.4 573.1h0M1576.2 572.1h0M1578.2 572.9h0M1579.7 573.4h0M1580.8 572.6h0M1582.8 572.5h0M1585.1 573.8h0M1586.7 573.9h0M1588.3 573.8h0M1589.7 574.2h0M1591.5 573.4h0M1592.6 574.4h0M1593.9 573.8h0M1595.4 573.6h0M1596.9 574h0M1598.6 574.3h0M1600.7 574.4h0M1602.7 574.5h0M1604.9 574.5h0M1606.9 574.5h0M1608.6 574.6h0M1610.5 574.9h0M1612.8 575.9h0M1614.8 575.9h0M1616.6 576h0M1618.5 575.8h0M1620 576.2h0M1621.5 576.4h0M1623.1 576.2h0M1624.5 575.5h0M1626.1 576h0M1627.8 576.5h0M1630 575.8h0M1631.6 576h0M1632.6 577.2h0M1634.6 576.3h0M1636.6 576.6h0M1638.3 576.3h0M1639 577.6h0M1640.4 577.5h0M1641.9 576.6h0M1643.8 576.7h0M1645.2 577.3h0M1646.9 578.2h0M1648.3 577.9h0M1649.9 578h0M1651.6 577.4h0M1653 577.8h0M1654.3 578.5h0M1656.5 578.6h0M1657.6 577.7h0M1659.1 578.8h0M1660.4 577.9h0M1661.7 578.9h0M1663.5 578.8h0M1665.1 578h0M1667 579.1h0M1668.2 578.1h0M1668.9 579.5h0M1670.8 578.3h0M1671.4 579.6h0M1672 578.3h0M1673 579.3h0M1674.4 578.8h0M1676.3 578.6h0M1678.1 579.8h0M1680.4 579h0M1681.6 580.1h0M1683 579.5h0" fill="none" stroke="#000000" stroke-width="11.2" stroke-linecap="round"/>
<path d="M1105.6 185.9h0M1115.3 256.9h0M1125.1 307.6h0M1134.8 345.7h0M1144.5 375.3h0M1154.2 399h0M1164 418.4h0M1173.7 434.6h0M1183.4 448.3h0M1193.1 460.1h0M1202.9 470.2h0M1212.6 479.1h0M1222.3 487h0M1232.1 494h0M1241.8 500.2h0M1251.5 505.8h0M1261.2 510.9h0M1271 515.6h0M1280.7 519.8h0M1290.4 523.7h0M1300.2 527.2h0M1309.9 530.5h0M1319.6 533.6h0M1329.3 536.4h0M1339.1 539h0M1348.8 541.5h0M1358.5 543.8h0M1368.2 545.9h0M1378 548h0M1387.7 549.9h0M1397.4 551.7h0M1407.2 553.4h0M1416.9 555h0M1426.6 556.5h0M1436.3 557.9h0M1446.1 559.3h0M1455.8 560.6h0M1465.5 561.8h0M1475.3 563h0M1485 564.2h0M1494.7 565.2h0M1504.4 566.3h0M1514.2 567.3h0M1523.9 568.2h0M1533.6 569.1h0M1543.3 570h0M1553.1 570.8h0M1562.8 571.6h0M1572.5 572.4h0M1582.3 573.2h0M1592 573.9h0M1601.7 574.6h0M1611.4 575.3h0M1621.2 575.9h0M1630.9 576.5h0M1640.6 577.1h0M1650.3 577.7h0M1660.1 578.3h0M1669.8 578.8h0M1679.5 579.4h0M1689.3 579.9h0" fill="none" stroke="#0000ff" stroke-width="10.6" stroke-linecap="round"/>
<path d="M1105.6 43.3h0M1106.2 52.2h0M1106.8 61.8h0M1107.7 73.9h0M1108.5 85.6h0M1109.1 94.4h0M1109.5 99.4h0M1110 104.9h0M1110.8 114.4h0M1111.4 121.8h0M1112.4 133.7h0M1112.8 137.1h0M1113.7 146.5h0M1114.1 150.8h0M1115.1 161.4h0M1115.5 165.8h0M1116.3 173h0M1116.9 178.9h0M1117.6 185h0M1118 188h0M1118.6 193.6h0M1119.4 200.1h0M1120.3 207.3h0M1121 213.3h0M1121.6 217.1h0M1122.2 221.4h0M1122.6 224.6h0M1123.7 232.9h0M1124.2 236.2h0M1124.8 239.8h0M1125.6 245.3h0M1126 247.9h0M1126.8 252.5h0M1127.5 258.1h0M1128.2 262.2h0M1129.5 269.4h0M1130.3 273.2h0M1130.8 276h0M1131.3 278.5h0M1132.3 283.6h0M1132.6 285.9h0M1133.3 289.2h0M1134.2 294.3h0M1134.8 297.1h0M1135.3 299.4h0M1136.2 303.2h0M1136.8 305.6h0M1137.2 308.2h0M1137.9 311.4h0M1138.8 315.6h0M1139.5 317.5h0M1140.7 323.4h0M1141.4 326h0M1142.5 330.2h0M1143.3 332.4h0M1144.2 336.6h0M1144.8 338.6h0M1145.2 340.3h0M1146.1 342.8h0M1146.7 346h0M1147.2 347.7h0M1147.9 350h0M1148.5 351.7h0M1149.2 353.6h0M1149.9 356.6h0M1150.5 358h0M1151.4 361.1h0M1152.1 362.9h0M1153.5 367.3h0M1154.8 370.2h0M1155.4 372.1h0M1156.7 375.7h0M1157.4 378.4h0M1158.7 381.1h0M1159.1 382.8h0M1160.4 385h0M1161.4 388.3h0M1162.5 390.8h0M1163.1 392.6h0M1164.7 395.2h0M1165.3 396.6h0M1166.1 398.8h0M1166.6 400.5h0M1167.9 403.1h0M1168.7 404.5h0M1169.7 406.8h0M1171.3 409.7h0M1171.8 411.2h0M1173.1 413.5h0M1173.9 415.2h0M1174.9 417.1h0M1176.4 420.1h0M1178 422.4h0M1178.6 424h0M1179.9 425.5h0M1181.2 427.9h0M1182.5 429.2h0M1183.7 432.3h0M1184.9 433.2h0M1185.6 434.9h0M1187 437.4h0M1188.5 438.3h0M1189.2 439.5h0M1190.4 442.4h0M1191.7 443.3h0M1192.3 445h0M1193.6 446.3h0M1194.2 447.5h0M1196.3 449.7h0M1197.4 451.3h0M1199.2 452.8h0M1201 455.8h0M1202.1 456.6h0M1203.4 458.2h0M1205 460h0M1206.7 462.3h0M1208 462.9h0M1209.7 465.8h0M1211.3 467.4h0M1212.7 467.9h0M1214 470.1h0M1215.7 471.9h0M1217.6 473.5h0M1219.7 474.9h0M1220.8 476.7h0M1222 477.4h0M1223.3 478.9h0M1225.5 480.7h0M1226.9 481.5h0M1228.2 482.8h0M1229.5 483.7h0M1230.5 484.8h0M1232 485.9h0M1233.2 486.8h0M1235.4 488.4h0M1237.4 490.1h0M1238.7 490.5h0M1240.7 491.4h0M1241.2 492.8h0M1242.8 493.8h0M1244.1 494.7h0M1245.4 495.3h0M1246.8 495.9h0M1248.1 497.1h0M1249.2 498.2h0M1250.8 498.2h0M1252 499.2h0M1253.3 500.2h0M1254.6 501.4h0M1256.7 502.6h0M1258.1 503.1h0M1259 504.2h0M1261.2 505.4h0M1262.7 506.2h0M1264.5 507.3h0M1266.4 507.2h0M1267.6 508.5h0M1268.9 509h0M1270.4 510.2h0M1271.8 510.6h0M1273.2 510.8h0M1273.8 512.1h0M1275.9 512.2h0M1277.1 513.4h0M1278.4 514.2h0M1279.8 513.7h0M1280.4 515.2h0M1282.2 515.6h0M1283.8 515.9h0M1285.6 517.5h0M1287.4 517.6h0M1288.7 518.2h0M1290.9 518.9h0M1292.3 520.1h0M1293.6 520.8h0M1295.4 521.8h0M1297 521.9h0M1299 521.9h0M1301 523.6h0M1302.8 523.4h0M1304.2 524.7h0M1305.6 525h0M1307.4 526.1h0M1309.6 527.2h0M1311.4 527.1h0M1312.8 527.8h0M1314.2 528.8h0M1316 528.7h0M1318 528.8h0M1319.6 530.7h0M1321.4 530.5h0M1322.6 531.7h0M1324.1 532.1h0M1325.3 531.3h0M1326.8 531.6h0M1327.9 532.7h0M1329.3 532.8h0M1331.3 533.7h0M1333.5 534.5h0M1334.8 535.3h0M1336.2 535.6h0M1337.7 535.9h0M1339.5 536.1h0M1341.1 536.5h0M1342.6 536.6h0M1343.9 537.6h0M1345.7 538.4h0M1347.2 538.4h0M1349.1 538.6h0M1350.6 538.8h0M1352.4 539h0M1353.1 540.4h0M1354.6 540.8h0M1356.5 540.2h0M1357.7 540.9h0M1359.2 541.4h0M1361 542h0M1362.4 541.8h0M1363.7 542.7h0M1365 543.3h0M1366.3 542.6h0M1367.3 543.9h0M1369.2 543.4h0M1370.5 544.1h0M1372.3 544.2h0M1373.9 545.1h0M1375.5 545.2h0M1376.8 545.7h0M1379.2 546.2h0M1381 547h0M1383.2 546.6h0M1385.2 546.8h0M1386.2 547.9h0M1387.8 548.2h0M1389.5 548.7h0M1391.7 548.1h0M1393.6 549.1h0M1395 549.8h0M1396.8 549.6h0M1398.3 550.3h0M1399.7 549.4h0M1401 550.6h0M1402.8 550.8h0M1404 551.4h0M1404.9 550.4h0M1405.6 551.8h0M1407.3 551.7h0M1409 551.7h0M1410.9 551.5h0M1412.1 552.5h0M1414.2 552.7h0M1415.5 553.4h0M1417.6 553.9h0M1419.5 553.8h0M1421.2 554.2h0M1422.9 554.8h0M1424.2 554.2h0M1426.2 555.3h0M1427.8 554.8h0M1429.7 555.5h0M1431.3 555.7h0M1433.1 556.4h0M1434.8 556.3h0M1436.6 556.4h0M1438.4 557.3h0M1439.9 556.3h0M1442 557.9h0M1443.7 557h0M1445.1 557.5h0M1446.7 557.6h0M1447.9 558.7h0M1449.6 557.7h0M1450.5 558.8h0M1452 558.1h0M1453.6 558.6h0M1455 558.9h0M1456.5 559h0M1457.6 560.1h0M1459.3 559.6h0M1460.5 560.3h0M1462.6 560.8h0M1464.4 561h0M1465.8 560.3h0M1467.7 561h0M1469.5 560.8h0M1471.5 561.8h0M1473 562h0M1475.1 561.4h0M1476.4 562.1h0M1478.4 562.7h0M1480.3 562.8h0M1481.6 561.9h0M1483 562.6h0M1484.7 563.3h0M1486.4 563.7h0M1487.6 562.7h0M1488.9 564h0M1490.3 564.2h0M1492.1 563.8h0M1493.4 564.3h0M1495 564.3h0M1496.9 563.8h0M1498 564.9h0M1499.2 564.1h0M1500.9 564.8h0M1502.6 564.6h0M1503.6 565.7h0M1505.5 565.5h0M1507 565.1h0M1508.7 565h0M1509.3 566.3h0M1511.2 565.3h0M1512.8 566.4h0M1514.6 566.6h0M1516.6 566.1h0M1518 566.7h0M1519.4 567.3h0M1521.4 567.4h0M1522.8 566.8h0M1524.5 567.4h0M1526.5 567h0M1527.9 568.1h0M1529.4 567.8h0M1531.3 567.9h0M1533.2 568.5h0M1534.7 568.5h0M1536.6 568.9h0M1538.7 569.2h0M1540.5 568.4h0M1541.9 569.4h0M1543.7 569.1h0M1546 568.8h0M1547.8 570.1h0M1549.5 569.6h0M1551.2 570.1h0M1553.2 570.3h0M1555 570h0M1557 569.9h0M1558.4 571h0M1560.4 570.4h0M1561.9 570.8h0M1563.6 571.1h0M1565.5 571.7h0M1567.1 570.8h0M1568.4 571.6h0M1570.2 571.2h0M1572.2 570.9h0M1572.9 572.2h0M1575.1 572.2h0M1576.8 572.2h0M1578.4 571.8h0M1580.3 572.4h0M1582 572.2h0M1583.7 571.8h0M1585.3 573.3h0M1586.7 572.3h0M1588.2 572.6h0M1589.5 573.5h0M1590.9 573h0M1592.7 573.8h0M1594.2 572.8h0M1595.5 573.6h0M1597.6 573.1h0M1599.4 573.5h0M1600.8 574.1h0M1602.6 573.9h0M1604.1 574.6h0M1605.9 573.8h0M1607.4 574.5h0M1609.2 573.8h0M1610.7 574.1h0M1612.5 574.5h0M1614.2 574.3h0M1616 574.6h0M1617.5 574.5h0M1618.8 575.8h0M1619.9 574.5h0M1621.1 575.2h0M1622.7 576h0M1624.6 574.9h0M1626 575.5h0M1627.9 575.8h0M1629.4 575.2h0M1631.1 575.5h0M1632.6 575.8h0M1634.6 576.1h0M1636.5 575.9h0M1638 576.1h0M1640 575.8h0M1641.7 576.5h0M1643.3 576.2h0M1644.6 576.7h0M1646.6 576.5h0M1648.2 576.8h0M1649.8 577.6h0M1651.8 577.4h0M1653 576.7h0M1655 577.7h0M1656.9 577.5h0M1658.4 577.6h0M1659.8 578.1h0M1661.6 578.4h0M1663.5 577.5h0M1664.4 578.6h0M1666.3 577.9h0M1667.5 578.7h0M1668.9 577.9h0M1670.1 578.9h0M1671.4 577.7h0M1673 578.5h0M1674.7 578.8h0M1676.1 578.3h0M1677.7 578.1h0M1679 579.2h0M1680.7 579.4h0M1682.3 578.3h0" fill="none" stroke="#008000" stroke-width="11.2" stroke-linecap="round"/>
<path d="M1105.6 43.6h0M1115.3 163.6h0M1125.1 241.8h0M1134.8 296.8h0M1144.5 337.6h0M1154.2 369h0M1164 394.1h0M1173.7 414.4h0M1183.4 431.3h0M1193.1 445.5h0M1202.9 457.7h0M1212.6 468.2h0M1222.3 477.4h0M1232.1 485.5h0M1241.8 492.7h0M1251.5 499.1h0M1261.2 504.8h0M1271 510h0M1280.7 514.8h0M1290.4 519.1h0M1300.2 523h0M1309.9 526.7h0M1319.6 530h0M1329.3 533.1h0M1339.1 536h0M1348.8 538.6h0M1358.5 541.1h0M1368.2 543.5h0M1378 545.7h0M1387.7 547.7h0M1397.4 549.6h0M1407.2 551.4h0M1416.9 553.2h0M1426.6 554.8h0M1436.3 556.3h0M1446.1 557.8h0M1455.8 559.2h0M1465.5 560.5h0M1475.3 561.7h0M1485 562.9h0M1494.7 564.1h0M1504.4 565.2h0M1514.2 566.2h0M1523.9 567.2h0M1533.6 568.2h0M1543.3 569.1h0M1553.1 569.9h0M1562.8 570.8h0M1572.5 571.6h0M1582.3 572.4h0M1592 573.1h0M1601.7 573.9h0M1611.4 574.6h0M1621.2 575.2h0M1630.9 575.9h0M1640.6 576.5h0M1650.3 577.1h0M1660.1 577.7h0M1669.8 578.3h0M1679.5 578.8h0M1689.3 579.4h0" fill="none" stroke="#ff0000" stroke-width="10.6" stroke-linecap="round"/>
<path d="M1249.5 470.5 L1251.7 472.6 L1253.8 474.7 L1256 476.7 L1258.2 478.6 L1260.3 480.5 L1262.5 482.3 L1264.7 484.1 L1266.9 485.8 L1269 487.5 L1271.2 489.1 L1273.4 490.7 L1275.5 492.3 L1277.7 493.8 L1279.9 495.3 L1282 496.7 L1284.2 498.2 L1286.4 499.5 L1288.5 500.9 L1290.7 502.2 L1292.9 503.5 L1295.1 504.7 L1297.2 505.9 L1299.4 507.1 L1301.6 508.3 L1303.7 509.5 L1305.9 510.6 L1308.1 511.7 L1310.2 512.7 L1312.4 513.8 L1314.6 514.8 L1316.7 515.8 L1318.9 516.8 L1321.1 517.8 L1323.3 518.7 L1325.4 519.6 L1327.6 520.6 L1329.8 521.5 L1331.9 522.3 L1334.1 523.2 L1336.3 524 L1338.4 524.9 L1340.6 525.7 L1342.8 526.5 L1345 527.2 L1347.1 528 L1349.3 528.8 L1351.5 529.5 L1353.6 530.2 L1355.8 531 L1358 531.7 L1360.1 532.4 L1362.3 533 L1364.5 533.7 L1366.6 534.4 L1368.8 535 L1371 535.6 L1373.2 536.3 L1375.3 536.9 L1377.5 537.5 L1379.7 538.1 L1381.8 538.7 L1384 539.2 L1386.2 539.8 L1388.3 540.4 L1390.5 540.9 L1392.7 541.5 L1394.8 542 L1397 542.5 L1399.2 543.1 L1401.4 543.6 L1403.5 544.1 L1405.7 544.6 L1407.9 545.1 L1410 545.5 L1412.2 546 L1414.4 546.5 L1416.5 546.9 L1418.7 547.4 L1420.9 547.9 L1423 548.3 L1425.2 548.7 L1427.4 549.2 L1429.6 549.6 L1431.7 550 L1433.9 550.4 L1436.1 550.8 L1438.2 551.2 L1440.4 551.6 L1442.6 552 L1444.7 552.4 L1446.9 552.8 L1449.1 553.2 L1451.2 553.6 L1453.4 553.9 L1455.6 554.3 L1457.8 554.7 L1459.9 555 L1462.1 555.4 L1464.3 555.7 L1466.4 556.1 L1468.6 556.4 L1470.8 556.7 L1472.9 557.1 L1475.1 557.4 L1477.3 557.7 L1479.5 558 L1481.6 558.3 L1483.8 558.7 L1486 559 L1488.1 559.3 L1490.3 559.6 L1492.5 559.9 L1494.6 560.2 L1496.8 560.5 L1499 560.7 L1501.1 561 L1503.3 561.3 L1505.5 561.6 L1507.7 561.9 L1509.8 562.1 L1512 562.4 L1514.2 562.7 L1516.3 562.9 L1518.5 563.2 L1520.7 563.5 L1522.8 563.7 L1525 564 L1527.2 564.2 L1529.3 564.5 L1531.5 564.7 L1533.7 565 L1535.9 565.2 L1538 565.4 L1540.2 565.7 L1542.4 565.9 L1544.5 566.1 L1546.7 566.4 L1548.9 566.6 L1551 566.8 L1553.2 567.1 L1555.4 567.3 L1557.5 567.5 L1559.7 567.7 L1561.9 567.9 L1564.1 568.1 L1566.2 568.3 L1568.4 568.6 L1570.6 568.8 L1572.7 569 L1574.9 569.2 L1577.1 569.4 L1579.2 569.6 L1581.4 569.8 L1583.6 570 L1585.7 570.2 L1587.9 570.3 L1590.1 570.5 L1592.3 570.7 L1594.4 570.9 L1596.6 571.1 L1598.8 571.3 L1600.9 571.5 L1603.1 571.6 L1605.3 571.8 L1607.4 572 L1609.6 572.2 L1611.8 572.3 L1614 572.5 L1616.1 572.7 L1618.3 572.9 L1620.5 573 L1622.6 573.2 L1624.8 573.4 L1627 573.5 L1629.1 573.7 L1631.3 573.8 L1633.5 574 L1635.6 574.2 L1637.8 574.3 L1640 574.5 L1642.2 574.6 L1644.3 574.8 L1646.5 574.9 L1648.7 575.1 L1650.8 575.2 L1653 575.4 L1655.2 575.5 L1657.3 575.7 L1659.5 575.8 L1661.7 576 L1663.8 576.1 L1666 576.3 L1668.2 576.4 L1670.4 576.5 L1672.5 576.7 L1674.7 576.8 L1676.9 577 L1679 577.1 L1681.2 577.2" fill="none" stroke="#00bfbf" stroke-width="6.5" stroke-linecap="butt" stroke-linejoin="round" stroke-dasharray="23.8 10.6"/>
</g>
<rect x="1075.9" y="16" width="641.2" height="590.5" fill="none" stroke="#3c3c3c" stroke-width="1.6"/>
<path d="M1069.9 470.5H1075.9" stroke="#151515" stroke-width="1.5"/>
<text transform="translate(1062.6,482.5) scale(1.015,1)" font-family="'DejaVu Sans', 'Liberation Sans', sans-serif" font-size="34.5" text-anchor="end" fill="#000">20</text>
<path d="M1069.9 328.2H1075.9" stroke="#151515" stroke-width="1.5"/>
<text transform="translate(1062.6,340.2) scale(1.015,1)" font-family="'DejaVu Sans', 'Liberation Sans', sans-serif" font-size="34.5" text-anchor="end" fill="#000">40</text>
<path d="M1069.9 185.9H1075.9" stroke="#151515" stroke-width="1.5"/>
<text transform="translate(1062.6,197.9) scale(1.015,1)" font-family="'DejaVu Sans', 'Liberation Sans', sans-serif" font-size="34.5" text-anchor="end" fill="#000">60</text>
<path d="M1069.9 43.6H1075.9" stroke="#151515" stroke-width="1.5"/>
<text transform="translate(1062.6,55.6) scale(1.015,1)" font-family="'DejaVu Sans', 'Liberation Sans', sans-serif" font-size="34.5" text-anchor="end" fill="#000">80</text>
<path d="M1105.6 606.5V613" stroke="#151515" stroke-width="1.5"/>
<text transform="translate(1105.6,643.4) scale(1.085,1)" font-family="'DejaVu Sans', 'Liberation Sans', sans-serif" font-size="32.3" text-anchor="middle" fill="#000">0.00</text>
<path d="M1249.5 606.5V613" stroke="#151515" stroke-width="1.5"/>
<text transform="translate(1249.5,643.4) scale(1.085,1)" font-family="'DejaVu Sans', 'Liberation Sans', sans-serif" font-size="32.3" text-anchor="middle" fill="#000">0.05</text>
<path d="M1393.4 606.5V613" stroke="#151515" stroke-width="1.5"/>
<text transform="translate(1393.4,643.4) scale(1.085,1)" font-family="'DejaVu Sans', 'Liberation Sans', sans-serif" font-size="32.3" text-anchor="middle" fill="#000">0.10</text>
<path d="M1537.3 606.5V613" stroke="#151515" stroke-width="1.5"/>
<text transform="translate(1537.3,643.4) scale(1.085,1)" font-family="'DejaVu Sans', 'Liberation Sans', sans-serif" font-size="32.3" text-anchor="middle" fill="#000">0.15</text>
<path d="M1681.2 606.5V613" stroke="#151515" stroke-width="1.5"/>
<text transform="translate(1681.2,643.4) scale(1.085,1)" font-family="'DejaVu Sans', 'Liberation Sans', sans-serif" font-size="32.3" text-anchor="middle" fill="#000">0.20</text>
<text transform="translate(1396.3,680.6) scale(1.080,1)" font-family="'DejaVu Sans', 'Liberation Sans', sans-serif" font-size="32.5" text-anchor="middle" fill="#000">x</text>
<text transform="translate(999.3,343.9) rotate(-90) scale(1,1.045)" font-family="'DejaVu Sans', 'Liberation Sans', sans-serif" font-size="34" font-style="italic">DP<tspan font-size="24" dy="5.0">n</tspan></text>
<rect x="1321.9" y="33.4" width="377.3" height="269" rx="6" ry="6" fill="#ffffff" fill-opacity="0.8" stroke="#d0d0d0" stroke-width="1.6"/>
<path d="M1371.8 59h0" fill="none" stroke="#000000" stroke-width="12" stroke-linecap="round"/>
<text transform="translate(1435.3,72) scale(1.090,1)" font-family="'DejaVu Sans', 'Liberation Sans', sans-serif" font-size="33.5" text-anchor="start" fill="#000">N=60 T=1.55</text>
<path d="M1371.8 107.2h0" fill="none" stroke="#0000ff" stroke-width="12" stroke-linecap="round"/>
<text transform="translate(1435.3,120.2) scale(1.090,1)" font-family="'DejaVu Sans', 'Liberation Sans', sans-serif" font-size="33.5" text-anchor="start" fill="#000">N=60 T=1.66</text>
<path d="M1371.8 155.1h0" fill="none" stroke="#008000" stroke-width="12" stroke-linecap="round"/>
<text transform="translate(1435.3,168.1) scale(1.090,1)" font-family="'DejaVu Sans', 'Liberation Sans', sans-serif" font-size="33.5" text-anchor="start" fill="#000">N=80 T=1.55</text>
<path d="M1371.8 203.1h0" fill="none" stroke="#ff0000" stroke-width="12" stroke-linecap="round"/>
<text transform="translate(1435.3,216.1) scale(1.090,1)" font-family="'DejaVu Sans', 'Liberation Sans', sans-serif" font-size="33.5" text-anchor="start" fill="#000">N=80 T=1.66</text>
<path d="M1335.3 263 L1407.1 263" fill="none" stroke="#00bfbf" stroke-width="6.5" stroke-linecap="butt" stroke-linejoin="round" stroke-dasharray="23.8 10.6"/>
<text transform="translate(1446.5,260.9) scale(1.040,1)" font-family="'DejaVu Sans', 'Liberation Sans', sans-serif" font-size="26" text-anchor="middle" fill="#000">1</text>
<path d="M1438.3 267.3H1458.7" stroke="#000" stroke-width="1.6"/>
<text transform="translate(1446.6,283.6) scale(1.060,1)" font-family="'DejaVu Sans', 'Liberation Sans', sans-serif" font-size="25" text-anchor="middle" font-style="italic" fill="#000">x</text>
<text transform="translate(904,59.3)" font-family="'Liberation Serif', 'DejaVu Serif', serif" font-size="45.5" text-anchor="start" stroke="#000" stroke-width="0.7" fill="#000">(b)</text>
<defs><clipPath id="cc"><rect x="636.2" y="719.5" width="622.9" height="554.1"/></clipPath></defs>
<g clip-path="url(#cc)">
<path d="M636.2 1273.7h0M637 1269.7h0M637.5 1268.6h0M638.4 1266h0M639.3 1261.5h0M640.3 1257h0M641.4 1252.4h0M642.2 1248.1h0M643.1 1244.3h0M644 1242h0M644.9 1236.1h0M645.6 1234h0M646.5 1227.8h0M647.2 1225.4h0M648 1221.2h0M648.7 1217.6h0M649.5 1212.8h0M650.3 1209.4h0M651.2 1205.6h0M651.6 1203.3h0M652.6 1197.1h0M653.9 1192.3h0M655.1 1185.5h0M655.6 1182.8h0M656.5 1177.6h0M657 1174.8h0M658 1170.8h0M658.5 1167.6h0M659.6 1164.2h0M660.6 1158.5h0M661.2 1154.6h0M662 1151.4h0M662.7 1146.8h0M663.3 1145.3h0M664.4 1139.2h0M664.9 1136.8h0M665.7 1131.8h0M666.6 1128h0M667.6 1123.5h0M668.2 1119.5h0M669 1115h0M669.5 1113.6h0M670.6 1108.9h0M671.2 1105.3h0M672.1 1102.4h0M672.8 1097.9h0M673.7 1094.3h0M674.1 1090.6h0M674.9 1088.1h0M675.8 1083.7h0M676.5 1079.9h0M677.5 1076.4h0M678 1072.4h0M678.8 1069.9h0M679.8 1065.1h0M681.5 1059.3h0M682 1055.9h0M682.8 1052.9h0M683.7 1049.3h0M684.7 1046.3h0M685.8 1044.1h0M686.7 1041.1h0M687.7 1036.9h0M688.6 1034.4h0M689.6 1031.9h0M690.6 1027.2h0M691.3 1025.3h0M692.4 1023.4h0M693.1 1020.2h0M694.5 1016h0M696.3 1011.2h0M697.4 1008.8h0M698.2 1007.2h0M699.4 1004.7h0M700 1001.9h0M700.9 1000.7h0M701.6 998.8h0M702.5 996.9h0M703.1 993.9h0M703.8 992.5h0M704.5 989.8h0M705.4 988.4h0M706.1 986.8h0M707.2 983.4h0M708.4 980.8h0M709.3 978.2h0M710.1 976.2h0M710.9 973.8h0M711.9 973h0M712.3 971.4h0M713.3 968.6h0M714 966.2h0M715 964.3h0M715.4 961.7h0M716.4 958.7h0M717.9 955.1h0M718.9 952h0M719.6 950.2h0M720 947.4h0M721.3 946h0M721.8 944.5h0M722.6 941.6h0M723.6 940.8h0M724.7 938.5h0M725.6 936.9h0M726.6 935.5h0M727.8 933.4h0M728.7 930.3h0M730.1 928.3h0M731.9 925.5h0M733.3 925.6h0M734.4 924.1h0M735.1 920.8h0M736.4 919.2h0M738 916.8h0M738.9 915.8h0M740.5 913.4h0M742.2 911.7h0M743.5 911.9h0M744.5 909.5h0M746 908.9h0M746.7 906.5h0M748.4 905.5h0M748.8 903.4h0M750.4 903.3h0M751.3 900.6h0M752.2 901.6h0M753.7 899.6h0M754.7 898.6h0M755.5 897.1h0M756.7 895.2h0M757.6 893.9h0M759.3 891.3h0M760.1 889.7h0M761.4 888.1h0M762.1 886.7h0M763.2 885.9h0M764 884.6h0M765.3 882.8h0M766.2 880.3h0M767.7 879.4h0M768.3 877.1h0M770 875.7h0M771.4 874.3h0M772.6 872.7h0M773.2 870.9h0M773.8 869.7h0M775 870.6h0M776.2 868.2h0M777.2 867.5h0M778.1 865.3h0M780.2 864.8h0M780.7 863.3h0M781.4 862.3h0M782.7 863.4h0M783.8 860.7h0M784.6 861.7h0M785.7 860.9h0M786.4 858.8h0M787 860h0M787.9 858.4h0M788.9 857.5h0M791.1 856.9h0M792.6 854.7h0M793.2 856h0M793.9 854.5h0M795 853.8h0M796.4 852.9h0M797.1 854.3h0M798.3 853h0M799.4 851.7h0M801 850.8h0M802.9 850.3h0M804.4 849.8h0M805.6 848.3h0M807.4 847.2h0M808.2 849h0M808.8 846.6h0M810.7 847.1h0M811.4 845.6h0M812.1 847h0M813.4 844.4h0M815.3 844.2h0M816.7 843.2h0M818.5 842.7h0M819.2 841.8h0M820 840.1h0M821.5 839.4h0M822.8 838.5h0M823.5 836.9h0M824.6 838.4h0M825.5 836.2h0M827.7 836h0M829.3 835.4h0M830.6 834.2h0M831.4 833.1h0M833 832.3h0M834.6 832.1h0M836.4 831h0M837.7 830.5h0M839.1 830.7h0M840.1 829.2h0M841.3 829h0M842.4 829.9h0M843 828.8h0M844.1 828h0M844.8 829.5h0M845.5 828.3h0M846.8 827.6h0M848.6 827.6h0M849.6 826.1h0M849.9 828.2h0M851 825.8h0M851.9 827.3h0M853.4 826.4h0M854.1 824.8h0M854.7 826.2h0M855.6 825.1h0M857.1 823.7h0M858.7 824.7h0M860.4 823h0M862.1 823.1h0M863.5 822.1h0M865 821.3h0M866.5 821h0M867.8 820.1h0M869 821.7h0M869.5 819.4h0M870.4 820.7h0M871.8 819.5h0M872.9 820.8h0M873.6 818.3h0M875.2 818.7h0M876.7 819h0M878 819.4h0M879 817.2h0M879.6 818.4h0M880.7 817.8h0M882 817.9h0M883 817.3h0M884.2 817h0M885.7 816.8h0M887.3 817.3h0M888.1 816.4h0M889.2 817.5h0M889.7 816.3h0M891.1 816.2h0M891.9 817.3h0M893 816.4h0M894.7 814.8h0M895 817h0M896 815.1h0M896.7 816.7h0M897.8 814.5h0M898.5 816.4h0M899.7 815.8h0M901.6 814.9h0M903.1 814.2h0M903.8 815.2h0M905.4 813.6h0M907.1 813.7h0M908.6 814.2h0M909.9 814.3h0M911.1 814.5h0M911.9 812.8h0M912.5 814.1h0M913.9 814.6h0M914.9 813.7h0M916.2 814.1h0M917.2 811.9h0M917.6 813.4h0M919.6 812.9h0M921 811.2h0M922.7 812.4h0M924.2 813h0M924.8 810.9h0M925.5 812.6h0M927.2 811.3h0M928.8 811.5h0M930.2 811.3h0M931.6 813.2h0M932.7 812h0M934 812.9h0M935.9 813.7h0M936.3 812.2h0M937.9 811.8h0M939.6 812h0M940.2 813.5h0M941.9 812.2h0M942.6 814.5h0M944.6 813.6h0M945.3 814.6h0M946.5 812.7h0M947.5 814.1h0M949.2 812.3h0M951.2 814.2h0M952 812.2h0M952.6 813.9h0M953.5 812.3h0M954.7 813.3h0M956.9 811.6h0M958.6 811.7h0M960.7 811.5h0M961.4 813.3h0M963 811.5h0M964.4 810.8h0M966.2 812h0M967.7 811.7h0M969.3 812.3h0M970.5 810.9h0M972.1 810.1h0M972.9 811.5h0M973.9 809.8h0M974.9 811.5h0M975.2 809.1h0M976.2 810.8h0M977.8 810.6h0M979.3 810.4h0M981 809.7h0M982.4 808.2h0M983.3 810h0M984.2 808.9h0M985.7 809.1h0M987.1 808.6h0M988.6 808.3h0M989.6 809.3h0M990.4 807h0M991 808.3h0M992.4 807.8h0M993.5 807h0M994 808.7h0M995.8 807.6h0M997.2 808.7h0M998.9 808.6h0M1000.6 807.2h0M1001.7 807.7h0M1003.4 807.5h0M1005.1 808.9h0M1005.6 807.6h0M1006.8 807.3h0M1007.8 807.9h0M1009.4 807.9h0M1010.7 807.9h0M1011.9 806.7h0M1012.9 807.9h0M1014.4 808.4h0M1015.6 808.2h0M1017.6 806.8h0M1018.9 808.1h0M1019.7 806.3h0M1020.4 808.5h0M1021.5 807.8h0M1023 807.8h0M1023.7 806.5h0M1024.2 807.7h0M1025.8 806.1h0M1026.8 808.4h0M1027.6 806.8h0M1029.3 808.3h0M1030.6 807h0M1031.3 808.4h0M1032.3 806.1h0M1032.9 807.6h0M1034.7 808.1h0M1035.1 806h0M1036.3 806.7h0M1037.5 806h0M1038.7 807.4h0M1040.2 808h0M1041 806.1h0M1042.5 808.1h0M1043 805.9h0M1043.6 807.4h0M1044.4 806.3h0M1045.2 807.8h0M1046.3 807h0M1048 805.6h0M1048.4 806.9h0M1050 805.6h0M1051.7 807h0M1053.5 806.6h0M1055.7 806.1h0M1056.5 807.1h0M1057.8 805.9h0M1059.2 805.5h0M1061.1 804.9h0M1061.9 806.9h0M1062.4 805.5h0M1063.2 804.5h0M1065 806.6h0M1065.5 805.1h0M1066.7 805.2h0M1067 806.5h0M1068.9 804.9h0M1070.4 804.9h0M1071.9 806h0M1073.4 805.9h0M1075 805.7h0M1075.9 804.5h0M1077.3 804.8h0M1078.9 805.4h0M1080.3 804h0M1081.3 804.9h0M1082.1 804h0M1083.7 803.1h0M1084.3 805h0M1085.7 803.2h0M1087.7 803.5h0M1088.8 804.9h0M1090.6 804.1h0M1091.6 802.9h0M1091.8 804.9h0M1093.6 802.7h0M1094.6 804.1h0M1096.9 804.1h0M1097.6 802.4h0M1098.9 803.1h0M1100.7 802.5h0M1102 802.7h0M1103.9 803.4h0M1105.5 803.3h0M1106.8 804.1h0M1107.8 802.4h0M1108.3 804h0M1109.9 802.5h0M1111.4 803h0M1113 803.7h0M1113.7 802.1h0M1115.3 803.7h0M1116.1 802.2h0M1117 804h0M1117.7 802.8h0M1118.6 802h0M1119.1 803.8h0M1120.2 802.5h0M1120.7 804.3h0M1122.7 804h0M1124.2 802h0M1125.4 802.8h0M1127.3 802.8h0M1128.8 803.6h0M1130.5 804h0M1131.7 803.8h0M1132.4 801.9h0M1134.4 802.7h0M1135.8 802.6h0M1137 801.9h0M1138.8 803.7h0M1139.6 802.4h0M1140.2 803.6h0M1141.8 803.4h0M1143.3 802.2h0M1145 802.1h0M1146.7 803.7h0M1147.4 802h0M1148.2 803h0M1149.4 802.8h0M1151.3 803.2h0M1152.1 801.9h0M1153.7 801.8h0M1154.9 803.4h0M1156.2 803.7h0M1156.7 801.4h0M1157.5 803.4h0M1158.9 801.6h0M1160.8 803.4h0M1161.4 801.8h0M1162.4 803.5h0M1163.7 803.7h0M1164.5 802.6h0M1166.1 802.8h0M1167.5 801.5h0M1168.2 803.3h0M1170 803.6h0M1171.7 802.7h0M1172.5 801.8h0M1173.3 803.6h0M1174.5 802.9h0M1175.9 803.3h0M1176.9 802.1h0M1178.5 803.7h0M1179.4 801.4h0M1181 802.5h0M1182.4 802h0M1183 803.4h0M1184.7 802.7h0M1185.3 801.4h0M1187.2 801.6h0M1188.8 802.3h0M1190.1 802.1h0M1190.7 803.2h0M1191.9 802.5h0M1193.4 802.2h0M1194.8 802.2h0M1195.4 803.5h0M1196.3 802.2h0M1196.9 803.3h0M1198.1 803h0M1198.8 802h0M1200.3 801.7h0M1201.9 803.1h0M1203.2 803.7h0M1204 801.5h0M1205.2 803.3h0M1205.9 801.9h0M1206.4 803.9h0M1207.4 801.7h0M1208 803.7h0M1208.6 802.5h0M1210.1 801.6h0M1211.3 802.1h0M1212.5 803.8h0M1213.7 803.9h0M1214.4 801.8h0M1214.8 802.9h0M1215.8 801.7h0M1217.3 803.1h0M1218.9 803.8h0M1220.4 802h0M1221.1 803.2h0M1222.9 803.6h0M1224.4 803h0M1226 802.8h0M1227.2 803.9h0M1228.4 802.6h0" fill="none" stroke="#000000" stroke-width="11.2" stroke-linecap="round"/>
<path d="M636.2 1273.6h0M651.4 1209.5h0M659.8 1157.1h0M669.3 1109.5h0M678.8 1071.4h0M690 1035h0M699.5 1006h0M711 981.4h0M720.5 961.9h0M731.4 941.7h0M741 923h0M750.9 908.3h0M762 895.4h0M773.1 885.3h0M783.1 876.1h0M794 868.1h0M805.1 860.4h0M816 851.8h0M827.1 846.1h0M837 840h0M847.7 834.2h0M857.7 829.3h0M868.8 827.9h0M878.7 828.9h0M889.2 822.2h0M899.7 820.8h0M910.8 821.2h0M921.2 815.5h0M932.3 812.6h0M941.8 810.7h0M953.3 810.1h0M963.6 808.2h0M973.9 806.8h0M984.2 805.8h0M994.5 805.1h0M1004.8 804.9h0M1015.1 806h0M1025.4 806.7h0M1035.7 805.8h0M1046 806.3h0M1056.3 807.2h0M1066.6 807.6h0M1076.9 806.4h0M1087.2 804.1h0M1097.5 802.4h0M1107.8 802.2h0M1118.1 802.2h0M1128.4 802.2h0M1138.7 802.2h0M1149 801.5h0M1159.3 800.6h0M1169.6 800.5h0M1179.9 800.8h0M1190.2 801.3h0M1200.5 801.5h0M1210.8 801.8h0M1221.1 802.1h0" fill="none" stroke="#0000ff" stroke-width="10.8" stroke-linecap="round"/>
<path d="M636.2 1274.7h0M636.9 1262.6h0M638 1249.8h0M638.4 1245.8h0M639.3 1236.4h0M640.2 1229.6h0M640.8 1226.8h0M641.8 1219.4h0M642.4 1216.7h0M643 1213.5h0M643.9 1208.6h0M644.6 1204h0M645.5 1197h0M646.2 1194.6h0M647 1188.5h0M648 1182.7h0M648.9 1178.8h0M649.6 1174.6h0M650.3 1170.2h0M651.2 1166.7h0M652 1162.8h0M652.4 1159.1h0M653.5 1152h0M653.9 1150.1h0M654.7 1143.2h0M655.8 1135.1h0M656.2 1132.5h0M657.5 1120.2h0M658.2 1114.9h0M658.5 1111.9h0M659.6 1104.8h0M660.5 1097.2h0M661.1 1094.9h0M661.9 1089h0M662.7 1085.3h0M663.5 1079.3h0M664.3 1075h0M665.1 1069.4h0M666 1064.9h0M666.3 1063.6h0M667.2 1060.5h0M667.8 1056.6h0M668.6 1053.5h0M669.5 1050h0M670.7 1043.3h0M671.1 1042h0M672 1039.7h0M672.7 1037.1h0M673.8 1032.5h0M674.2 1030.9h0M675 1028h0M675.8 1024.2h0M676.5 1022.1h0M677.2 1020.3h0M678.2 1016.7h0M678.8 1014.7h0M680.8 1009.7h0M681.2 1008h0M681.8 1005.7h0M682.9 1003h0M683.6 999.1h0M684.5 997.3h0M685.1 994.9h0M686.8 989.6h0M687.5 987.4h0M688.5 985.6h0M689 984.3h0M689.7 982h0M690.5 980h0M691.3 976.2h0M692.1 975.1h0M693 972.3h0M693.7 971.2h0M694.8 967h0M695.2 965.6h0M696.3 962.6h0M697.7 960.8h0M698.7 957.4h0M699.4 955.7h0M700.2 952.7h0M700.8 951.1h0M702.4 946.6h0M703.2 943.5h0M704.5 939.9h0M705.7 936.6h0M706.3 935.2h0M707.2 933.4h0M707.6 930.2h0M708.8 928.6h0M709.2 926.3h0M710.8 923.9h0M711.6 922.1h0M712.2 920.7h0M713.4 918.7h0M714.6 916.2h0M715.6 914.8h0M716.5 912.5h0M717.9 910.2h0M718.5 911.3h0M719.4 908.5h0M721.2 905.4h0M722.3 904.9h0M723.6 903.2h0M724.9 899.9h0M726.4 897.9h0M727.5 897h0M728.6 896.2h0M730.6 894.4h0M731 892.8h0M732.1 891.1h0M733.7 888.5h0M734 889.8h0M735.2 888.5h0M736 885.7h0M737.1 886.3h0M738.4 884.4h0M739.1 883.1h0M740.7 881.2h0M741.8 880.2h0M742.5 879h0M743.6 877.8h0M744.9 875.6h0M746.9 874.4h0M748.3 871.8h0M748.8 870.6h0M750.5 869.3h0M751.9 867.3h0M752.9 866.1h0M753.6 865.1h0M755.1 864.3h0M756.3 861.8h0M757.4 861.1h0M758.9 859.3h0M759.8 857.7h0M761.6 856.9h0M762.9 856h0M763.9 853.9h0M765.6 852.6h0M767.1 851.2h0M768.5 850.5h0M769.4 851.7h0M769.8 849.6h0M771 850.5h0M772.5 848.3h0M774.1 846.9h0M775.3 845.5h0M777.2 843.7h0M778.4 843h0M779.3 844.1h0M780.2 842.2h0M781.5 840.8h0M782.5 839.7h0M783.5 838.8h0M785 839.1h0M785.5 837.3h0M786.3 838.5h0M787.8 837.5h0M788.6 835.2h0M789.6 836h0M791 835.5h0M791.8 833.4h0M793.3 833.4h0M794.2 831.8h0M795.9 832.2h0M798 829.5h0M798.7 830.9h0M799.5 829.5h0M800.9 828.5h0M802.7 828.3h0M804.3 828.1h0M805.8 826h0M807.6 827h0M808.1 825.6h0M808.7 826.8h0M809.5 825.2h0M811.3 823.9h0M812.1 825.7h0M812.9 823.5h0M814.1 823.7h0M815.8 823.5h0M817.5 823.5h0M818.8 823.1h0M820.4 821.1h0M821.5 820.7h0M822.7 819.9h0M823.7 821.1h0M824.3 819h0M826.1 818.8h0M827.8 817.4h0M829.3 816.4h0M830.9 814.2h0M831.2 816.1h0M832.4 814.9h0M834 813h0M834.3 814.5h0M835.4 813.7h0M835.9 812.4h0M837.7 812.5h0M838.3 810.4h0M839.4 811.3h0M840.7 811.6h0M842.3 809.8h0M842.9 808.6h0M844 809.1h0M845.7 809.2h0M847 809.9h0M847.9 808.2h0M849.1 807.5h0M850.3 809.2h0M851.7 807.7h0M853.3 808.3h0M855 807.6h0M856.4 808.1h0M858.2 807.3h0M859.6 808h0M861.2 808.7h0M862.7 807.1h0M863.6 809.2h0M864 807.8h0M865.1 808.7h0M866.5 808.5h0M868.1 806.8h0M868.9 808.9h0M869.8 806.9h0M870.6 807.9h0M871.8 808.2h0M872.5 807.2h0M873.6 808.2h0M875.3 807.8h0M876.9 806.7h0M878.3 806.1h0M879.9 804.4h0M880.3 806h0M881.5 803.5h0M882.3 805.2h0M882.9 803.1h0M883.7 804.3h0M884.2 802.7h0M885.2 804h0M886 802.3h0M887.2 803.5h0M888.5 802.3h0M889.8 802.5h0M890.6 800.6h0M892.4 801.7h0M893.8 800.1h0M894.7 801.6h0M895.1 799.5h0M896.1 801h0M897.8 799.8h0M899 799.4h0M900.6 799.5h0M901.7 798.6h0M903 799.2h0M903.9 798.3h0M905.6 798.3h0M906.7 799.7h0M907.7 798.3h0M909.1 797.6h0M910.1 799.2h0M911.4 799.5h0M913.1 798.8h0M914.7 800.1h0M915.2 798.6h0M916.9 799.9h0M918 799.1h0M919.5 798.6h0M919.9 800.2h0M921.1 799.1h0M922.7 799.4h0M923.4 800.7h0M924.8 801.5h0M926.1 801.4h0M927.8 799.8h0M929.6 800.2h0M930.8 800.5h0M932 801.3h0M933.4 799.8h0M934 801.2h0M935.8 800.6h0M937.2 801.3h0M939.1 801.5h0M940.6 801.7h0M940.9 799.6h0M942.1 801.2h0M943.5 801.5h0M944.2 800.2h0M945.7 800.3h0M946.9 801.5h0M947.4 799.9h0M949 802h0M950.5 800.4h0M952.1 800.8h0M953.4 800.1h0M954.2 802.1h0M955 800.3h0M956.1 801.6h0M957.7 801.6h0M959.3 800.3h0M960.5 802.2h0M961.3 800.7h0M962.9 801h0M963.9 800.2h0M965.2 801.5h0M965.8 800.4h0M967 800.8h0M968.4 800.1h0M969.9 802h0M971.4 801.8h0M972.5 801.1h0M974.1 799.9h0M976.3 800.9h0M977.6 800h0M979.1 800.9h0M980.3 799.8h0M981.9 800h0M982.5 801.4h0M984.2 800.6h0M986.4 799.4h0M987.9 800.4h0M988.9 799.5h0M989.5 800.6h0M990.9 799.3h0M992.3 800.3h0M993 801.2h0M993.9 799.2h0M994.7 800.4h0M996.5 799.9h0M997.3 801.1h0M998.9 799.5h0M1000.4 801.1h0M1001.8 799.7h0M1003.2 799.7h0M1004.4 798.8h0M1004.8 800.7h0M1005.9 798.8h0M1008.3 800.2h0M1009.9 799.3h0M1011.4 798.9h0M1012.6 799.4h0M1013.5 798.5h0M1015.3 798.5h0M1016.9 798.2h0M1018.2 798.3h0M1020 796.8h0M1022 797.8h0M1022.9 796.8h0M1023.8 795.5h0M1024.7 796.8h0M1026.1 797.4h0M1027.7 797.1h0M1028.4 795.3h0M1029.3 796.1h0M1031.2 795.6h0M1032.5 794.7h0M1033.1 796.7h0M1034.8 796.5h0M1035.1 795.4h0M1036.8 796.4h0M1038.3 795.8h0M1039 794.3h0M1040.5 796h0M1042.2 794.9h0M1043.2 796.1h0M1044.1 794.4h0M1045.6 794.7h0M1046.8 794.3h0M1048 794.7h0M1049.3 795.1h0M1050.2 794.2h0M1051.6 794.1h0M1052.2 795.9h0M1053.4 794.1h0M1055.8 794.8h0M1057.2 794.9h0M1058 793.6h0M1059.4 794.6h0M1060.7 795.3h0M1061.8 794.5h0M1063.3 793.3h0M1064.3 794.5h0M1065.8 794h0M1067.5 793.9h0M1069 793.4h0M1070.6 794.7h0M1071.9 794.7h0M1072.6 792.5h0M1073.7 794.5h0M1074.1 792.4h0M1074.9 793.9h0M1076.4 792.3h0M1077.9 793h0M1079.9 792.8h0M1080.7 791.6h0M1081.5 793.9h0M1082.1 792.3h0M1083.5 793.5h0M1084.9 791.6h0M1085.7 793.2h0M1086.5 792.2h0M1088 791.5h0M1089.6 792.1h0M1090.7 792.8h0M1091.4 791.6h0M1092.2 792.8h0M1093.8 790.5h0M1094.4 792.7h0M1095.3 790.6h0M1096.8 791.7h0M1098.6 790.6h0M1100.4 790.4h0M1101.4 791.2h0M1103 791.5h0M1103.7 790.4h0M1104.6 791.4h0M1106.1 792.7h0M1106.6 791.3h0M1107.7 792.2h0M1109.4 792.8h0M1110.7 793.5h0M1112.5 792.2h0M1113.8 793.6h0M1114.9 792.6h0M1115.6 794h0M1116.2 792.9h0M1116.9 794.1h0M1118 792.3h0M1118.3 793.9h0M1120.2 792.5h0M1121.7 792.1h0M1123.4 793.9h0M1124.7 792.6h0M1125.8 792h0M1127.3 792h0M1128.9 791.3h0M1130 792.2h0M1131.1 793.1h0M1132.4 793.1h0M1133.1 791.3h0M1134.7 792.6h0M1136.6 790.9h0M1138.3 792.4h0M1139.6 792.3h0M1140.1 791.2h0M1142 791.1h0M1142.7 790h0M1144.4 789.7h0M1145.9 789.7h0M1147.4 790.8h0M1149.1 789h0M1149.9 790.9h0M1151.2 791h0M1151.8 789.2h0M1152.8 790.3h0M1154.6 790.1h0M1155.7 788.5h0M1156.5 790.2h0M1158.4 789.6h0M1159.9 789.2h0M1160.6 788.2h0M1161.6 789.6h0M1162.9 789.1h0M1164.5 787.9h0M1166 787.9h0M1167.8 789.5h0M1168.5 787.9h0M1170.2 789.2h0M1171.4 789.8h0M1173.1 788.7h0M1174.6 789.7h0M1176.3 789.6h0M1177.6 788.1h0M1178.4 789.6h0M1180.3 789.9h0M1181.6 790.5h0M1183 789.4h0M1184.8 788.8h0M1185.4 790.5h0M1187.2 791h0M1187.9 789.8h0M1189.2 791h0M1190.1 790.1h0M1191.2 791.6h0M1193.3 789.7h0M1195 789.6h0M1195.8 791.7h0M1197.1 791.5h0M1198.5 792.1h0M1200.2 791.1h0M1201.7 791h0M1203.5 791h0M1204.9 792.3h0M1206.5 790.9h0M1208.2 792.1h0M1209.8 792.5h0M1210.9 791.5h0M1212 791h0M1213.5 791.7h0M1215 792.7h0M1216.7 792.7h0M1218.2 792.7h0M1219.9 793.3h0M1221 793h0M1222.9 792.5h0M1224.4 793.2h0M1225.9 793.4h0M1227.7 792.2h0M1228 793.8h0" fill="none" stroke="#008000" stroke-width="11.2" stroke-linecap="round"/>
<path d="M636.2 1273.6h0M647.1 1190.5h0M658.1 1122.6h0M669.3 1065.5h0M678.8 1023.8h0M688.4 987.3h0M701.2 956.5h0M712.3 928.7h0M723.7 908.3h0M734.8 892.4h0M744.2 880.7h0M754 869h0M763.5 857.6h0M773.1 851.4h0M784 844.2h0M794 841.3h0M804.5 834.2h0M814.6 827h0M825.5 825.6h0M835.7 818h0M846.2 814h0M855.7 812h0M867.2 807.8h0M877.8 805.5h0M887.3 800.2h0M896.9 800.2h0M908.4 797.3h0M917.9 797.3h0M927.5 797.9h0M938 798.3h0M948.3 794.3h0M958.9 795.9h0M968.8 795.9h0M979.5 798.6h0M989.4 797.7h0M1000.2 797.7h0M1010.1 797.7h0M1020.9 797.7h0M1030.7 797.7h0M1041.5 800.4h0M1052.3 803.1h0M1062.2 803.1h0M1073 805h0M1082 805h0M1092.7 805h0M1102.6 806.7h0M1112.5 807.6h0M1123.3 809.4h0M1133.2 807.6h0M1144 809.4h0M1153.8 809.4h0M1163.7 811.2h0M1174.5 812.1h0M1184.4 811.2h0M1194.3 811.2h0M1204.1 811.2h0M1214.9 810.3h0M1225.7 809.4h0M1234.7 808.2h0" fill="none" stroke="#ff0000" stroke-width="10.8" stroke-linecap="round"/>
<path d="M636.2 770.3 L1235.6 867.3" fill="none" stroke="#00bfbf" stroke-width="2.6" stroke-linecap="butt" stroke-linejoin="round" stroke-dasharray="8.0 4.4" stroke-opacity="0.72"/>
</g>
<rect x="636.2" y="719.5" width="622.9" height="554.1" fill="none" stroke="#151515" stroke-width="1.6"/>
<path d="M630.7 1274H636.2" stroke="#151515" stroke-width="1.5"/>
<text transform="translate(623.5,1285.6) scale(1.060,1)" font-family="'DejaVu Sans', 'Liberation Sans', sans-serif" font-size="31.8" text-anchor="end" fill="#000">1.0</text>
<path d="M630.7 1173.3H636.2" stroke="#151515" stroke-width="1.5"/>
<text transform="translate(623.5,1184.9) scale(1.060,1)" font-family="'DejaVu Sans', 'Liberation Sans', sans-serif" font-size="31.8" text-anchor="end" fill="#000">1.2</text>
<path d="M630.7 1072.5H636.2" stroke="#151515" stroke-width="1.5"/>
<text transform="translate(623.5,1084.1) scale(1.060,1)" font-family="'DejaVu Sans', 'Liberation Sans', sans-serif" font-size="31.8" text-anchor="end" fill="#000">1.4</text>
<path d="M630.7 971.8H636.2" stroke="#151515" stroke-width="1.5"/>
<text transform="translate(623.5,983.4) scale(1.060,1)" font-family="'DejaVu Sans', 'Liberation Sans', sans-serif" font-size="31.8" text-anchor="end" fill="#000">1.6</text>
<path d="M630.7 871H636.2" stroke="#151515" stroke-width="1.5"/>
<text transform="translate(623.5,882.6) scale(1.060,1)" font-family="'DejaVu Sans', 'Liberation Sans', sans-serif" font-size="31.8" text-anchor="end" fill="#000">1.8</text>
<path d="M630.7 770.3H636.2" stroke="#151515" stroke-width="1.5"/>
<text transform="translate(623.5,781.9) scale(1.060,1)" font-family="'DejaVu Sans', 'Liberation Sans', sans-serif" font-size="31.8" text-anchor="end" fill="#000">2.0</text>
<path d="M636.2 1273.6V1279.4" stroke="#151515" stroke-width="1.5"/>
<text transform="translate(636.2,1308) scale(1.070,1)" font-family="'DejaVu Sans', 'Liberation Sans', sans-serif" font-size="32.3" text-anchor="middle" fill="#000">0.00</text>
<path d="M791.8 1273.6V1279.4" stroke="#151515" stroke-width="1.5"/>
<text transform="translate(791.8,1308) scale(1.070,1)" font-family="'DejaVu Sans', 'Liberation Sans', sans-serif" font-size="32.3" text-anchor="middle" fill="#000">0.05</text>
<path d="M947.4 1273.6V1279.4" stroke="#151515" stroke-width="1.5"/>
<text transform="translate(947.4,1308) scale(1.070,1)" font-family="'DejaVu Sans', 'Liberation Sans', sans-serif" font-size="32.3" text-anchor="middle" fill="#000">0.10</text>
<path d="M1103 1273.6V1279.4" stroke="#151515" stroke-width="1.5"/>
<text transform="translate(1103,1308) scale(1.070,1)" font-family="'DejaVu Sans', 'Liberation Sans', sans-serif" font-size="32.3" text-anchor="middle" fill="#000">0.15</text>
<path d="M1258.6 1273.6V1279.4" stroke="#151515" stroke-width="1.5"/>
<text transform="translate(1258.6,1308) scale(1.070,1)" font-family="'DejaVu Sans', 'Liberation Sans', sans-serif" font-size="32.3" text-anchor="middle" fill="#000">0.20</text>
<text transform="translate(948.5,1342) scale(1.070,1)" font-family="'DejaVu Sans', 'Liberation Sans', sans-serif" font-size="32.3" text-anchor="middle" fill="#000">x</text>
<text transform="translate(554.6,1011.0) rotate(-90) scale(1,1.08)" font-family="'DejaVu Sans', 'Liberation Sans', sans-serif" font-size="31" font-style="italic">D&#x336;</text>
<rect x="875.1" y="1021.6" width="365.6" height="235.4" rx="6" ry="6" fill="#ffffff" fill-opacity="0.8" stroke="#d0d0d0" stroke-width="1.6"/>
<path d="M923.1 1046.6h0" fill="none" stroke="#000000" stroke-width="11.6" stroke-linecap="round"/>
<text transform="translate(984.6,1058.8) scale(1.120,1)" font-family="'DejaVu Sans', 'Liberation Sans', sans-serif" font-size="31.5" text-anchor="start" fill="#000">N=60 T=1.55</text>
<path d="M923.1 1091.6h0" fill="none" stroke="#0000ff" stroke-width="11.6" stroke-linecap="round"/>
<text transform="translate(984.6,1103.8) scale(1.120,1)" font-family="'DejaVu Sans', 'Liberation Sans', sans-serif" font-size="31.5" text-anchor="start" fill="#000">N=60 T=1.66</text>
<path d="M923.1 1136.6h0" fill="none" stroke="#008000" stroke-width="11.6" stroke-linecap="round"/>
<text transform="translate(984.6,1148.8) scale(1.120,1)" font-family="'DejaVu Sans', 'Liberation Sans', sans-serif" font-size="31.5" text-anchor="start" fill="#000">N=80 T=1.55</text>
<path d="M923.1 1181.6h0" fill="none" stroke="#ff0000" stroke-width="11.6" stroke-linecap="round"/>
<text transform="translate(984.6,1193.8) scale(1.120,1)" font-family="'DejaVu Sans', 'Liberation Sans', sans-serif" font-size="31.5" text-anchor="start" fill="#000">N=80 T=1.66</text>
<path d="M887.4 1226.1 L957.4 1226.1" fill="none" stroke="#00bfbf" stroke-width="2.6" stroke-linecap="butt" stroke-linejoin="round" stroke-dasharray="8.0 4.4" stroke-opacity="0.72"/>
<text transform="translate(987.0,1239.6) scale(1.09,1)" font-family="'DejaVu Sans', 'Liberation Sans', sans-serif" font-size="32.2"><tspan font-style="italic">D&#x336;</tspan>=2-x</text>
<text transform="translate(477.5,769.5)" font-family="'Liberation Serif', 'DejaVu Serif', serif" font-size="45" text-anchor="start" stroke="#000" stroke-width="0.7" fill="#000">(c)</text>
</g></svg></body></html>
